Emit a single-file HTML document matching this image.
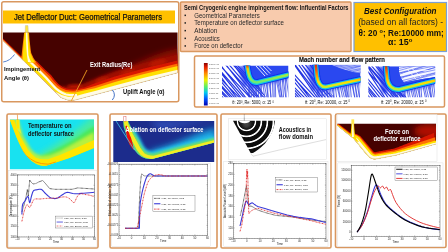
<!DOCTYPE html>
<html><head><meta charset="utf-8">
<style>
html,body{margin:0;padding:0;background:#fff;width:448px;height:252px;overflow:hidden}
svg{display:block}
text{font-family:"Liberation Sans","DejaVu Sans",sans-serif}
</style></head><body>
<svg width="448" height="252" viewBox="0 0 448 252">
<!-- ========== PANEL 1 ========== -->
<g id="p1">
<rect x="1.75" y="1.75" width="177" height="100" rx="2" fill="#fff" stroke="#d9975f" stroke-width="1.5"/>
<rect x="3" y="10.5" width="172" height="13" fill="#ffc000"/>
<text x="14" y="20" font-size="8.4" fill="#111" stroke="#111" stroke-width="0.25" textLength="148" lengthAdjust="spacingAndGlyphs">Jet Deflector Duct: Geometrical Parameters</text>
<defs>
<clipPath id="c1"><path d="M3,32.5 H177.5 V72.7 L75,100.1 Q68,101.3 61,97.5 L3,40.5 Z"/></clipPath>
<filter id="bl1" x="-20%" y="-20%" width="140%" height="140%"><feGaussianBlur stdDeviation="1.6"/></filter>
<filter id="bl05" x="-20%" y="-20%" width="140%" height="140%"><feGaussianBlur stdDeviation="0.6"/></filter>
<filter id="bl3" x="-20%" y="-20%" width="140%" height="140%"><feGaussianBlur stdDeviation="3"/></filter>
</defs>
<g clip-path="url(#c1)">
<rect x="0" y="30" width="180" height="75" fill="#460200"/>
<path d="M90,84 Q125,68 150,57 Q165,51 180,48 V75 Z" fill="#8a0c02" filter="url(#bl3)"/>
<path d="M60,86 Q70,88 80,85 L95,79 L115,71.5 L144,63 L180,54 V80 L60,100 Z" fill="#a01000" filter="url(#bl1)"/>
<g fill="#b81400" filter="url(#bl1)"><ellipse cx="102" cy="80" rx="7" ry="2.5" transform="rotate(-16 102 80)"/><ellipse cx="128" cy="72.5" rx="8" ry="2.6" transform="rotate(-16 128 72.5)"/><ellipse cx="158" cy="63" rx="9" ry="3" transform="rotate(-15 158 63)"/><ellipse cx="75" cy="86.5" rx="8" ry="2"/></g>
<!-- red band -->
<path d="M3,38.5 L21,56 L31,58.5 L37,61.5 L45.5,70 L51,75 Q54.5,80 58.5,84 Q62,87.5 66.5,88.6 Q71,89.6 76,89 L85,87.2 L95,83.3 L115,76.4 L144,68.6 L180,60.1 V110 L0,110 Z" fill="#d81800" filter="url(#bl05)"/>
<!-- orange -->
<path d="M3,39.5 L21,57.2 L31,59.7 L36,62.6 L44.2,71 L49.8,76.2 Q53.2,81.2 57.5,85.3 Q61.5,89 66,90 Q71,91 76,90.6 L85,88.7 L95,86 L115,79.6 L144,71.8 L180,63 V110 L0,110 Z" fill="#ff7000" filter="url(#bl05)"/>
<!-- yellow -->
<path d="M3,40.2 L21,58.2 L30,61 L34.5,64.5 L42.4,72.8 L47.8,77.8 Q51.5,83 56,87 Q60.5,90.8 65.5,92 Q71,92.8 76,92.3 L85,90.3 L95,88.3 L115,81.9 L144,74.1 L180,65.4 V110 L0,110 Z" fill="#ffe000" filter="url(#bl05)"/>
<!-- white core / near wall -->
<path d="M30,61.5 L38.5,70 L46.3,78 L53,85.5 Q58.5,92 66,94.5 Q71,95.5 77,95" fill="none" stroke="#fffbe6" stroke-width="2.2" filter="url(#bl05)"/>
<path d="M56,92 Q62,96 68,96.8 Q72,97 76,96 L85,93.6 L95,91 L115,85.6 L144,77.8 L180,69.2 V110 L60,110 Z" fill="#fffbe6" filter="url(#bl05)"/>
<!-- jet -->
<path d="M24.3,31 L28.9,31 Q29.9,45 31.2,53 Q33,58 36.5,62.5 L21,62 Q22,50 24.3,31 Z" fill="#ff8a00" filter="url(#bl05)"/>
<path d="M24.9,31 L28.3,31 Q29.2,45 30.3,53 Q32,58 35,62.5 L22.5,62 Q23,50 24.9,31 Z" fill="#ffe000" filter="url(#bl05)"/>
<path d="M26,31 L27.3,31 Q27.8,45 28.4,55 Q29.5,59 31,62 L28,62 Q25.8,50 26,31 Z" fill="#fffbe0" filter="url(#bl05)"/>
</g>
<!-- wall line -->
<path d="M3,40.5 L61,97.5 Q68,101.3 75,100.1 L178,72.6" fill="none" stroke="#d0d0c0" stroke-width="0.6"/>
<!-- nozzle tip -->
<path d="M25.4,25.6 h2.6 l0.3,6.4 h-3.2 z" fill="#ffe640" stroke="#b0b0b0" stroke-width="0.4"/>
<!-- annotations -->
<path d="M3.2,62 Q10,61 14.5,54.5" fill="none" stroke="#4472c4" stroke-width="0.9"/>
<path d="M112.3,89.8 Q116.5,95 112.3,100" fill="none" stroke="#4472c4" stroke-width="1"/>
<path d="M87,70 L71.3,100.9" stroke="#f0a020" stroke-width="0.9"/>
<text x="90" y="66.6" font-size="6.3" font-weight="bold" fill="#fff" textLength="42.3" lengthAdjust="spacingAndGlyphs">Exit Radius(Re)</text>
<text x="123" y="94.2" font-size="6.3" font-weight="bold" fill="#111" textLength="41.5" lengthAdjust="spacingAndGlyphs">Uplift Angle (α)</text>
<text x="4" y="70.6" font-size="6.1" font-weight="bold" fill="#111" textLength="36.2" lengthAdjust="spacingAndGlyphs">Impingement</text>
<text x="4" y="79.5" font-size="6.1" font-weight="bold" fill="#111" textLength="25" lengthAdjust="spacingAndGlyphs">Angle (θ)</text>
</g>
<!-- ========== PANEL 2 ========== -->
<g id="p2">
<rect x="180.5" y="2" width="170.5" height="49.5" rx="1" fill="#f8cbad" stroke="#d9975f" stroke-width="1.5"/>
<text x="184" y="9.6" font-size="6.3" font-weight="bold" fill="#111" textLength="164.5" lengthAdjust="spacingAndGlyphs">Semi Cryogenic engine impingement flow: Influential Factors</text>
<g fill="#222">
<rect x="184.5" y="14.6" width="1.5" height="1.5"/>
<rect x="184.5" y="22.2" width="1.5" height="1.5"/>
<rect x="184.5" y="29.9" width="1.5" height="1.5"/>
<rect x="184.5" y="37.6" width="1.5" height="1.5"/>
<rect x="184.5" y="45.2" width="1.5" height="1.5"/>
</g>
<g font-size="6.7" fill="#2a2a2a" lengthAdjust="spacingAndGlyphs">
<text x="194.3" y="17.6" textLength="65.6" lengthAdjust="spacingAndGlyphs">Geometrical Parameters</text>
<text x="194.3" y="25.2" textLength="89.6" lengthAdjust="spacingAndGlyphs">Temperature on deflector surface</text>
<text x="194.3" y="32.9" textLength="23" lengthAdjust="spacingAndGlyphs">Ablation</text>
<text x="194.3" y="40.6" textLength="25.5" lengthAdjust="spacingAndGlyphs">Acoustics</text>
<text x="194.3" y="48.2" textLength="48.4" lengthAdjust="spacingAndGlyphs">Force on deflector</text>
</g>
</g>
<!-- ========== PANEL 3 ========== -->
<g id="p3">
<rect x="354" y="2.5" width="92.5" height="49" fill="#ffc000" stroke="#7a9fd6" stroke-width="1.2"/>
<g fill="#111">
<text x="364" y="13.6" font-size="8.6" font-weight="bold" font-style="italic" textLength="72.5" lengthAdjust="spacingAndGlyphs">Best Configuration</text>
<text x="358.2" y="24.7" font-size="8.4" fill="#222" textLength="85" lengthAdjust="spacingAndGlyphs">(based on all factors) -</text>
<text x="358.6" y="35.6" font-size="8.2" font-weight="bold" textLength="85.2" lengthAdjust="spacingAndGlyphs">θ: 20 <tspan font-size="5.5" dy="-3">o</tspan><tspan dy="3">; Re:10000 mm;</tspan></text>
<text x="388" y="45.2" font-size="8.2" font-weight="bold" textLength="24.3" lengthAdjust="spacingAndGlyphs">α: 15<tspan font-size="5.5" dy="-3">o</tspan></text>
</g>
</g>
<!-- ========== PANEL 4 ========== -->
<g id="p4">
<rect x="194.5" y="56" width="250" height="51" rx="1.5" fill="#fff" stroke="#d9975f" stroke-width="1.5"/>
<text x="299" y="62.2" font-size="6.6" font-weight="bold" fill="#111" stroke="#111" stroke-width="0.15" textLength="86" lengthAdjust="spacingAndGlyphs">Mach number and flow pattern</text>
<defs>
<linearGradient id="jg1" gradientUnits="userSpaceOnUse" x1="0" y1="65" x2="0" y2="84">
<stop offset="0" stop-color="#e03010"/><stop offset="0.2" stop-color="#ffc000"/><stop offset="0.55" stop-color="#a0f040"/><stop offset="1" stop-color="#60e880"/></linearGradient>
<linearGradient id="jg2" gradientUnits="userSpaceOnUse" x1="0" y1="64" x2="0" y2="88">
<stop offset="0" stop-color="#e02010"/><stop offset="0.4" stop-color="#ff8000"/><stop offset="0.75" stop-color="#ffe000"/><stop offset="1" stop-color="#c0f030"/></linearGradient>
<linearGradient id="jg3" gradientUnits="userSpaceOnUse" x1="0" y1="66" x2="0" y2="90">
<stop offset="0" stop-color="#e03010"/><stop offset="0.35" stop-color="#ff9000"/><stop offset="0.7" stop-color="#ffe000"/><stop offset="1" stop-color="#b0f040"/></linearGradient>
<linearGradient id="cb" x1="0" y1="0" x2="0" y2="1">
<stop offset="0" stop-color="#8a0000"/><stop offset="0.1" stop-color="#e82000"/><stop offset="0.25" stop-color="#ff9000"/><stop offset="0.4" stop-color="#f0f000"/><stop offset="0.55" stop-color="#60f060"/><stop offset="0.7" stop-color="#00c8f0"/><stop offset="0.85" stop-color="#0050ff"/><stop offset="1" stop-color="#0000b0"/></linearGradient>
</defs>
<rect x="203.9" y="63" width="3.8" height="42.5" fill="url(#cb)"/>
<g font-size="2.4" fill="#555">
<text x="209" y="64.5">3.50e+00</text><text x="209" y="69.4">3.06e+00</text><text x="209" y="74.3">2.63e+00</text><text x="209" y="79.2">2.19e+00</text><text x="209" y="84.1">1.75e+00</text><text x="209" y="89">1.31e+00</text><text x="209" y="93.9">8.75e-01</text><text x="209" y="98.8">4.38e-01</text><text x="209" y="103.7">0.00e+00</text>
</g>
<clipPath id="mc1"><rect x="222" y="65.5" width="66.5" height="32"/></clipPath>
<clipPath id="ml1"><path d="M222,65.5 L247,65.5 L248,71.8 Q250,82.8 258,84.8 L266,97.5 L222,97.5 Z"/></clipPath>
<clipPath id="mb1"><path d="M248,82.8 L288.5,74.5 V97.5 H248 Z"/></clipPath>
<g clip-path="url(#mc1)">
<g clip-path="url(#ml1)"><path d="M255.19,25.92L313.38,84.16M256.95,24.26L308.07,88.8M254.65,26.17L307.31,89.46M251.37,28.99L307.6,89.14M249,31.08L306.85,89.67M250.74,29.46L302.04,93.86M248.82,31.07L301.01,94.74M248.71,31.27L297.2,97.81M246.94,32.7L296.58,98.39M241.26,37.56L298.97,96.29M240.81,37.84L296.61,98.38M241.32,37.35L293.82,100.78M238.22,39.98L293.06,101.39M238.39,39.84L289.14,104.67M238.13,40.13L287.01,106.39M236.91,41.2L284.99,108.04M234.1,43.46L284.34,108.69M233.09,44.33L282.57,110.15M231.48,45.72L280.32,112M229.4,47.4L279.45,112.78M224.36,51.71L281.46,111.03M223.08,52.8L280.51,111.8M222.26,53.44L278.82,113.27M223.66,52.2L274.36,117.08M220.55,54.78L274.33,117.13M218.25,56.74L273.29,117.97M219.25,55.92L269.29,121.3M214.65,59.81L271.01,119.83M215.7,58.89L266.17,123.94M212.36,61.67L266.69,123.53M212.04,61.93L263.89,125.88M207.59,65.86L265.78,124.1M210.55,63.24L260.29,128.84M207.54,65.7L260.9,128.4M204.94,67.95L260.99,128.25M204.75,68.05L258.72,130.22M201.54,70.91L259.48,129.41M201.09,71.2L257.58,131.1M199.01,73.01L256.62,131.84M199.97,72.05L253.47,134.64M199.95,72.1L250.6,137.01M197.16,74.41L251.14,136.58M193.74,77.46L251.69,135.95" stroke="#2436e2" stroke-width="1.15" fill="none"/>
<path d="M238,65.5 L248,65.5 L250,84.8 L243,86.8 Z" fill="#2038ee" opacity="0.75" filter="url(#bl1)"/></g>
<g clip-path="url(#mb1)"><path d="M289.62,41.41L303.08,122.95M290.61,41.23L299.68,123.38M290.61,41.24L297.14,123.64M284.89,41.96L299.97,123.22M288.91,41.46L293.62,123.97M288.05,41.57L291.73,124.14M287.75,41.7L288.91,124.35M280.47,42.35L293.4,123.99M283.96,42.02L287.17,124.61M278.2,42.56L289.5,124.43M279.9,42.39L285.39,124.86M277.08,42.66L284.13,125.01M271.15,43.48L287.82,124.43M271.14,43.37L285.43,124.78M269.01,43.68L285.28,124.72M274.54,43.06L276.26,125.7M273.87,43.19L274.32,125.84M270.83,43.39L274.23,125.98M270.02,43.57L271.06,126.22M263.39,44.12L275.39,125.9M267.23,43.87L268.16,126.52M260.41,44.44L272.59,126.19M256.96,44.9L272.19,126.14M257.34,44.75L268.83,126.6M260.71,44.54L261.94,127.18M257.79,44.73L262.3,127.26M256.81,44.88L259.65,127.49M255.93,45.04L257.25,127.68M250.07,45.5L260.18,127.53M251.89,45.37L255.7,127.94M245.92,45.97L258.52,127.66M248.53,45.7L253.36,128.21M246.75,45.88L251.76,128.38M243.34,46.2L252.2,128.37M244.01,46.17L249.01,128.67M240.77,46.47L249.98,128.61M240.75,46.5L246.33,128.96M235.76,47.06L248.9,128.66M237.32,46.85L243.5,129.27M237.35,46.95L239.56,129.58M236.02,47.11L237.81,129.74M229.35,47.69L240.85,129.54M225.65,48.22L241.61,129.32M231.75,47.6L232.52,130.25M227.2,47.9L234.65,130.21M221.8,48.62L237.61,129.75M221.43,48.56L234.52,130.17M219.52,48.81L234.11,130.17M221.5,48.5L228.66,130.84M217.32,49L230.59,130.58M215.2,49.23L228.64,130.78M215.26,49.16L225.28,131.2M214.99,49.19L221.83,131.56M212.53,49.44L220.56,131.7M208.17,49.99L222.33,131.42" stroke="#3446e6" stroke-width="0.75" fill="none"/>
<path d="M248,83.8 L288.5,74.5 L288.5,79.5 L248,88.8 Z" fill="#2038ee" opacity="0.6" filter="url(#bl1)"/></g>
<path d="M247.5,65.5 L288.5,65.5 L288.5,73.5 L257,80.8 Q250,80.8 248.5,71.8 Z" fill="#2a48f0"/>
<path d="M256,66 L265,76 M259.5,66 L267.5,75 M263,66 L270,73.5 M266.5,66 L271.5,71" stroke="#e4e8ff" stroke-width="1" filter="url(#bl05)"/>
<path d="M247,64.5 L248.2,71.8 Q250,82.8 257,82.5 L289.5,74.5" fill="none" stroke="#1030e8" stroke-width="6.6" filter="url(#bl05)"/>
<path d="M247,64.5 L248.2,71.8 Q250,82.8 257,82.5 L289.5,74.5" fill="none" stroke="#10c0f0" stroke-width="4.8" filter="url(#bl05)"/>
<path d="M247,64.5 L248.2,71.8 Q250,82.8 257,82.5 L289.5,74.5" fill="none" stroke="url(#jg1)" stroke-width="2.5" filter="url(#bl05)"/>
</g>
<clipPath id="mc2"><rect x="294.8" y="64.8" width="65.7" height="32.7"/></clipPath>
<clipPath id="ml2"><path d="M294.8,64.8 L315.7,64.8 L316.7,76.3 Q318.7,87.3 326.5,89.3 L334.5,97.5 L294.8,97.5 Z"/></clipPath>
<clipPath id="mb2"><path d="M316.5,87.3 L360.5,79.3 V97.5 H316.5 Z"/></clipPath>
<g clip-path="url(#mc2)">
<g clip-path="url(#ml2)"><path d="M332.02,22.02L381.02,87.64M326.51,26.74L384.18,84.89M325.45,27.52L381.31,87.41M322.97,29.67L380.01,88.43M322.18,30.25L377.79,90.37M322.47,29.96L373.84,93.74M321.63,30.71L371.35,95.78M317.46,34.17L371.77,95.47M316.37,35.06L369.61,97.3M317.37,34.31L366.26,100.02M315.64,35.76L364.75,101.29M312.83,38.04L365.04,101.13M312.38,38.45L362.49,103.23M309.14,41.15L363.45,102.45M306.18,43.76L363.36,102.39M308.18,41.98L358.2,106.82M306.23,43.59L357.23,107.67M302.25,46.98L357.96,107.01M305.2,44.64L352.22,111.69M300.63,48.28L354.02,110.37M298.34,50.25L354.01,110.32M301.06,48.06L348.84,114.57M299,49.75L347.43,115.8M295.53,52.56L346.94,116.31M293.18,54.52L345.43,117.59M294.06,53.95L341.64,120.61M292.16,55.54L339.73,122.21M289.63,57.56L339.22,122.74M289.48,57.83L336.48,124.89M283.62,62.58L338.5,123.36M281.12,64.72L337.14,124.46M282.89,63.2L333.05,127.93M280.41,65.24L332.84,128.15M276.22,68.93L333.72,127.24M275.68,69.24L330.74,129.88M274.58,70.15L328.9,131.44M275.04,69.79L324.93,134.74M270.22,73.91L327.08,132.86M270.5,73.56L324.11,135.47M267.99,75.76L324.33,135.2M269.18,74.7L319.59,139.24" stroke="#2436e2" stroke-width="1.15" fill="none"/>
<path d="M306.7,64.8 L316.7,64.8 L318.7,89.3 L311.7,91.3 Z" fill="#2038ee" opacity="0.75" filter="url(#bl1)"/></g>
<g clip-path="url(#mb2)"><path d="M366.82,39.27L370.04,121.57M359.67,40.08L373.3,121.3M357.89,40.35L372.56,121.39M358.16,40.28L369.18,121.9M355.12,40.72L368.98,121.91M352.57,41.11L367.69,122.06M356.17,40.7L360.99,122.91M349.25,41.57L364.16,122.56M352.26,41.19L358.47,123.32M345.39,42.2L363.1,122.63M347.21,41.82L358.06,123.46M341.82,42.76L360.91,122.87M346.64,41.96L353.48,124.04M346.89,42.07L350.13,124.36M345.04,42.33L348.27,124.63M337.11,43.33L353.92,123.95M338.08,43.1L350.7,124.49M333.43,43.94L352.49,124.06M332.16,44.08L350.51,124.37M332.05,44.01L347.81,124.84M331.63,44.01L344.48,125.36M327.1,44.83L346.29,124.92M330.54,44.18L339.82,126.01M331.24,44.22L335.62,126.46M323.67,45.18L339.43,126.02M326.8,44.75L333.83,126.8M322.8,45.25L334.11,126.83M321.27,45.47L331.84,127.14M316.64,46.21L333.72,126.78M319.55,45.72L328.56,127.59M319.85,45.81L324.34,128.05M316.22,46.2L324.85,128.1M315.51,46.36L321.59,128.5M310.4,47L323.33,128.33M306.74,47.6L323.79,128.18M309.82,47.1L318.14,129.04M306.6,47.53L317.26,129.19M303.44,47.99L317.42,129.15M305.76,47.73L312.02,129.85M305.56,47.86L309.14,130.14M298.79,48.65L313.4,129.7M298.01,48.74L310.97,130.07M299.65,48.6L305.49,130.75M295.81,49.05L305.34,130.86M294.34,49.25L304.53,130.98M291.97,49.58L303.64,131.11M292.49,49.55L300.37,131.53M285.35,50.66L303.56,130.98M285.88,50.45L299.54,131.67M288.78,50.17L293.45,132.4M284.59,50.64L293.59,132.5M285.67,50.63L289.91,132.88" stroke="#3446e6" stroke-width="0.75" fill="none"/>
<path d="M316.5,88.3 L360.5,79.3 L360.5,84.3 L316.5,93.3 Z" fill="#2038ee" opacity="0.6" filter="url(#bl1)"/></g>
<path d="M316.2,64.8 L360.5,64.8 L360.5,78.3 L325.5,85.3 Q318.7,85.3 317.2,76.3 Z" fill="#2a48f0"/>
<clipPath id="rr2"><path d="M331,64.8 L361,64.8 L361,73.5 Q346,71.5 331,64.8 Z"/></clipPath><g clip-path="url(#rr2)"><path d="M331,64.8 L361,64.8 L361,73.5 Q346,71.5 331,64.8 Z" fill="#c8d0fc"/><path d="M227.29,2.53L425.27,-47.19M227.17,2.2L426.03,-43.86M226.74,0.2L427.12,-38.73M229,9.77L425.32,-46.13M228.47,8.14L426.6,-40.98M226.74,-0.92L428.86,-29.45M227.39,2.76L428.82,-30.25M228.19,6.98L428.64,-31.58M228.45,8.2L428.87,-30.47M229.14,11.55L428.94,-30.24M229.09,11.16L429.71,-26.49M229.1,11.02L430.16,-24.19M230.75,18.95L429.16,-29.02M229.4,12.12L430.97,-20.08M230.05,15.62L430.92,-20.7M230.45,17.49L431.29,-18.96M231.75,23.78L430.77,-21.58M231.96,24.82L431.29,-19.16M231.21,20.59L432.84,-11.23M233.63,32.06L430.88,-20.47M231.52,21.71L433.52,-7.68M232.63,27.88L433.01,-11.03M233.24,30.84L432.95,-11.4M234.01,34.38L432.75,-12.21M233.64,32.67L433.79,-7.42M233.76,33.13L434.44,-4.23M233.73,32.52L435.25,0.07M234.58,37.02L435.2,-0.63M234.37,35.53L435.92,3.2M234.67,36.79L436.41,5.69M235.45,41L436.29,4.54M235.42,40.56L436.83,7.4M237.3,49.72L435.6,1.31M235.92,42.86L437.44,10.33M238.63,55.41L435.53,1.58M237.89,52.69L437.01,7.76M238.52,55.47L436.88,7.3M237.26,49.09L438.86,17.09M238.13,53.78L438.45,14.53M238.08,53.39L438.95,17.06M237.97,52.42L439.61,20.66M239.35,59.58L439.04,17.29M240.37,64.2L438.83,16.47M239.72,61.26L439.95,21.6M241.21,67.9L438.9,17.07M240.2,63.55L440.5,24.2M242.33,72.59L438.87,17.49M241.73,70.64L440.23,23.02M240.52,64.36L442.23,33.04M241.95,71.83L441.38,28.29M241.74,70.75L442.22,32.33M242.31,73.49L442.32,32.7M241.7,69.71L443.59,39.63M243.34,78.32L442.58,33.96M244.33,82.66L442.3,32.94M242.56,73.61L444.61,44.58M243.93,81.13L443.88,40.04M244.55,84.02L443.7,39.22M246.26,91.01L442.64,35.3M244.58,84.1L444.99,45.35M244.82,85.25L445.21,46.36M244.99,85.96L445.65,48.53M245.2,86.91L446.01,50.25M247.76,98.08L444.16,42.43M245.87,90.1L446.51,52.58M247.55,97.89L445.62,48.54M246.79,94.57L446.99,54.71M247.76,99.06L446.58,52.84M248.02,100.29L446.88,54.21M248.57,102.8L446.98,54.81M247.5,97.57L448.63,62.75M248.26,101.47L448.32,60.96M249.41,106.75L447.88,59.03M248.26,101.08L449.55,67.14M250.36,110.9L447.98,59.79M249.09,105.21L449.85,68.31M250.43,111.57L448.98,64.18M249.27,105.74L450.7,72.65M249.52,106.85L451.05,74.37M251.21,115.27L449.86,68.29M250.05,109.21L451.7,77.56M252.23,119.84L450.12,69.77M251.5,116.75L451.34,75.13M251.02,114.06L452.32,80.21M253.25,124.51L450.85,73.29M251.67,117.09L452.97,83.25M252.01,118.7L453.31,84.83M254.34,129.45L451.54,76.75M252.6,121.49L453.83,87.27M254.13,129L452.84,82.29M254.19,129.38L453.37,84.7M253.17,123.75L454.98,93.1M256.19,137.66L452.45,81.52M253.9,127.35L455.53,95.55M255.49,135.48L454.75,91.21M254.6,130.44L456.44,99.98M255.27,134.22L456.28,98.65M255.86,137.14L456.44,99.25M257.3,143.83L455.63,95.53M257.8,146.01L455.7,96M256.89,142.08L457.07,102.11M256.59,140.25L457.91,106.5M256.61,140L458.35,108.88M256.91,141.36L458.74,110.8M257.35,143.51L459.07,112.28M260.38,157.38L456.7,101.48M260.14,156.88L457.65,105.34M258.88,151.35L459.46,113.46M259.92,156.31L459.06,111.47M259.73,155.4L460.03,116.09M261.12,161.73L459.2,112.42M260.78,160.4L460.31,117.32M261.54,163.86L460.28,117.3M261.23,162.51L461.1,121.04M262.78,169.3L460.29,117.74M260.99,160.55L462.81,129.94M261.58,163.67L462.96,130.29M262.29,167.44L462.69,128.59M264.57,177.25L461.17,122.36M264.04,175.5L462.23,126.64M263.86,174.85L463.05,130.27M263.18,171.35L464.34,136.65M265.66,182.41L462.3,127.65M265.64,182.59L462.81,129.75M263.43,171.82L465.47,142.7M266.39,185.99L463.27,132.09M265.89,184.29L464.4,136.73M266.05,185.1L464.79,138.52M265.68,183.42L465.84,143.4M267.22,190.26L464.87,139.25M267.75,192.5L464.91,139.64M266.22,185.78L467.07,149.39M268.52,195.98L465.35,141.91M267.75,193.11L466.63,147.15M266.93,188.95L468.11,154.43M267.17,190.06L468.45,156.05M268.52,196.8L467.77,152.45M268.61,197.26L468.25,154.71" stroke="#3a50f0" stroke-width="0.6" fill="none"/></g>
<path d="M315.7,63.8 L316.9,76.3 Q318.7,87.3 325.5,87 L361.5,79.3" fill="none" stroke="#1030e8" stroke-width="6.6" filter="url(#bl05)"/>
<path d="M315.7,63.8 L316.9,76.3 Q318.7,87.3 325.5,87 L361.5,79.3" fill="none" stroke="#10c0f0" stroke-width="4.8" filter="url(#bl05)"/>
<path d="M315.7,63.8 L316.9,76.3 Q318.7,87.3 325.5,87 L361.5,79.3" fill="none" stroke="url(#jg2)" stroke-width="2.5" filter="url(#bl05)"/>
</g>
<clipPath id="mc3"><rect x="368.2" y="66.3" width="67" height="31.2"/></clipPath>
<clipPath id="ml3"><path d="M368.2,66.3 L386,66.3 L387,78.8 Q389,89.8 400,91.8 L408,97.5 L368.2,97.5 Z"/></clipPath>
<clipPath id="mb3"><path d="M390,89.8 L435.2,80.3 V97.5 H390 Z"/></clipPath>
<g clip-path="url(#mc3)">
<g clip-path="url(#ml3)"><path d="M405.65,24.54L457.74,88.48M403.39,26.32L456.22,89.65M405.69,24.66L451.21,93.43M400.04,28.94L452.86,92.28M398.37,30.26L451.58,93.26M396.97,31.36L450.53,94.08M394.02,33.76L449.42,94.85M393.35,34.22L447.45,96.46M393.98,33.65L444.46,98.87M393.99,33.73L440.84,101.6M392.17,35.15L439.26,102.85M388,38.36L441.21,101.37M384.84,40.94L440.35,101.93M385.75,40.08L436.72,104.91M384.76,40.86L435.01,106.25M381.88,43.16L435.59,105.74M379.37,45.17L434.08,106.88M377.59,46.54L431.94,108.57M378.34,45.89L427.11,112.4M373.64,49.64L428.37,111.33M375.96,47.78L423.74,115M371.48,51.31L425.69,113.45M373.5,49.77L419.91,117.93M372.86,50.32L418.25,119.18M367.9,54.04L419.99,117.97M366.73,54.95L418.75,118.95M364.09,57.04L417.31,120.04M362.13,58.64L416.82,120.36M362.04,58.62L414.47,122.28M358.57,61.46L414,122.52M362.18,58.65L407.82,127.34M360.37,60.09L405.53,129.1M355.41,63.8L407.82,127.47M354.14,64.77L405.09,129.63M351.42,66.93L404.28,130.23M350.47,67.66L402.98,131.26M351.16,67.17L398.67,134.58M347.68,69.82L398.86,134.49M345.95,71.18L397.37,135.65M346.6,70.76L393.51,138.59M343.91,72.78L393.61,138.59M343.41,73.26L390.14,141.21" stroke="#2436e2" stroke-width="1.15" fill="none"/>
<path d="M377,66.3 L387,66.3 L389,91.8 L382,93.8 Z" fill="#2038ee" opacity="0.75" filter="url(#bl1)"/></g>
<g clip-path="url(#mb3)"><path d="M439.2,38.52L445.6,120.93M430.51,39.96L450.49,120.16M429.45,40.12L448.85,120.47M434.92,39.29L441.06,121.71M432.52,39.63L440.49,121.9M424.02,41.22L446.57,120.74M428.71,40.25L438.03,122.38M425.74,40.73L436.92,122.62M424.83,40.92L434.63,122.99M421.71,41.41L435.37,122.93M416.85,42.38L437.19,122.49M416.67,42.32L434.03,123.14M415.51,42.51L432.02,123.5M413.98,42.79L430.74,123.73M417.64,42.34L423.74,124.77M414.63,42.78L422.77,125.03M407.82,43.9L425.8,124.57M405.65,44.29L423.91,124.9M406.39,44.11L420.73,125.51M403.24,44.69L420.3,125.56M401.03,45.1L419.08,125.76M400.46,45.16L415.62,126.41M399.58,45.31L413.39,126.8M401.55,45.18L407.55,127.61M395.28,46.07L410.62,127.29M390.45,47.09L412.08,126.86M395.56,46.13L403.96,128.36M387.02,47.7L408.82,127.43M387.85,47.39L404.17,128.42M385.67,47.78L402.29,128.74M385.91,47.72L399.43,129.26M382.97,48.24L398.5,129.42M383.44,48.2L394.18,130.15M378.5,49.06L396.24,129.79M377.75,49.17L393.82,130.24M378.45,49.06L390.21,130.87M375.94,49.48L388.86,131.12M371.61,50.31L390.71,130.73M373.51,49.92L385.9,131.64M367.76,51.08L389.18,130.91M368.05,50.91L386.08,131.57M369.09,50.69L382.78,132.2M367.08,51.04L380.84,132.54M367.8,51.01L376.52,133.2M366.63,51.28L373.9,133.61M363.13,51.77L374.36,133.65M363.61,51.78L371.45,134.07M358.68,52.52L373.45,133.84M355.14,53.19L373.11,133.86M358.44,52.66L367.24,134.84M350.49,54.12L371.85,133.97" stroke="#3446e6" stroke-width="0.75" fill="none"/>
<path d="M390,90.8 L435.2,80.3 L435.2,85.3 L390,95.8 Z" fill="#2038ee" opacity="0.6" filter="url(#bl1)"/></g>
<path d="M386.5,66.3 L435.2,66.3 L435.2,79.3 L399,87.8 Q389,87.8 387.5,78.8 Z" fill="#2a48f0"/>
<clipPath id="rr3"><path d="M399,66.3 L436,66.3 L436,77 Q420,79 404,82.5 Q398,76 399,66.3 Z"/></clipPath><g clip-path="url(#rr3)"><path d="M399,66.3 L436,66.3 L436,77 Q420,79 404,82.5 Q398,76 399,66.3 Z" fill="#f4f6ff"/><path d="M224.06,4.26L421.56,-47.32M224.35,5.43L422.14,-45.03M224.42,5.71L422.72,-42.68M226.62,13.82L421.38,-47.32M225.6,10.45L423.14,-40.98M224.5,5.25L425.2,-31.97M224.96,7.23L425.45,-31.08M227.5,17.86L423.82,-38.07M228.44,21.28L423.63,-38.45M226.93,15.7L426.06,-29.18M227.02,15.8L426.93,-25.45M227.62,18.33L427.18,-24.56M230.29,28.63L425.31,-31.64M231.12,31.6L425.3,-31.34M228.61,22.23L428.42,-19.53M231.33,32.77L426.26,-27.81M228.89,23.06L429.29,-15.74M232.23,36.13L426.57,-26.31M232.28,36.67L427.46,-23.11M230.74,30.94L429.94,-13.63M230.41,28.91L431.19,-7.87M231.23,32.69L431.18,-8.39M231.6,34.24L431.37,-7.71M232.15,36.54L431.6,-6.87M232.34,37.25L432,-5.22M235.33,48.68L429.99,-12.74M233.76,43.17L432.25,-4.44M235.39,49.46L431.55,-7.02M235.67,50.61L431.89,-5.66M234.35,45.31L434.04,2.96M236,52.11L433.11,-0.93M236.43,53.8L433.41,0.29M237.86,58.93L432.72,-1.89M235.23,48.18L436.12,11.97M236.22,52.8L435.87,10.29M236.7,54.83L436,10.74M237.2,56.85L436.4,12.29M238.21,61.06L436.16,11.23M237.36,56.99L437.86,18.67M240.43,69.29L435.39,8.82M238.06,59.73L438.66,21.94M239.92,67.88L437.58,16.93M241.33,73.17L437.04,15.15M241.61,74.32L437.43,16.67M241.57,74.37L438.29,19.89M240.6,70.47L439.91,26.39M242.46,77.91L439.03,22.9M242.46,78.04L439.9,26.26M242.33,77.55L440.96,30.51M244,83.94L439.96,26.79M243.3,81.45L441.22,31.5M244.82,87.12L440.42,28.72M244.59,86.49L441.36,32.2M245.74,90.74L441.1,31.56M244.96,88.13L442.88,38.19M245.42,89.94L443.25,39.67M244.76,86.89L444.84,46.45M246.23,93.22L444.17,43.33M245.5,89.76L445.78,50.3M246.22,92.94L445.79,50.04M247.58,98.62L445.41,48.33M248.77,103.12L444.87,46.43M247.65,98.79L446.86,54.27M247.62,98.28L447.88,58.74M250.21,108.78L445.95,50.86M250.55,110.14L446.27,52.16M248.7,102.6L448.99,63.19M251.2,112.88L447.45,56.75M251.44,113.97L448.15,59.45M250.4,109.7L449.93,66.68M252.99,119.64L447.92,59.08M252.65,118.78L449.19,63.66M251.97,116.22L450.58,69.06M254.61,125.8L448.8,62.91M253.24,121.33L450.86,70.18M254.48,125.97L450.39,68.62M252.44,117.28L453.24,80.58M254.02,124.45L452.39,76.3M255.3,129.37L451.71,73.78M256.38,133.29L451.48,73.27M254.13,124.2L454.68,86.19M254.34,124.92L455.06,87.82M255.16,128.71L454.95,86.9M257.22,137.11L453.79,82.09M256.39,133.87L455.47,88.76M258.22,141.07L454.56,85.23M256.42,133.21L457.25,96.68M258.11,140.85L456.42,92.46M258.55,142.62L456.57,93.07M258.18,140.93L457.65,97.6M259.09,144.75L457.6,97.21M259.14,144.91L458.17,99.57M261.25,153.01L456.9,94.81M260.01,148.36L459.09,103.29M259.51,145.71L460.19,108.35M261.73,155.26L458.58,101.23M261.23,153.35L459.95,106.66M261.47,154.26L460.51,108.96M263.02,160.4L459.72,105.85M264.32,164.98L459.04,103.76M262.27,157.28L461.96,114.97M262.71,159.08L462.32,116.35M264.7,167.06L461.04,111.23M263.05,160.09L463.41,121.08M264.46,166.34L462.56,117.08M263.95,163.98L463.73,122.07M265.76,171.44L462.62,117.45M265.38,170.02L463.73,121.79M266.5,174.43L463.51,120.99M267.92,179.6L463.02,119.57M268.31,181.11L463.3,120.74M266.19,172.93L466.02,131.3M268.7,182.91L464.39,124.86M268.12,180.99L465.6,129.3M267.28,177.23L467.33,136.62M268.41,182.13L467.09,135.29M269.38,186.02L466.72,133.84M269.24,185.51L467.49,136.89M270.85,191.6L466.69,134.03M269.18,184.91L469.03,143.36M269.39,185.73L469.37,144.77M269.47,185.6L470.24,148.73M271.01,192.57L469.43,144.65M271.15,193.08L470.1,147.4M271.48,194.34L470.76,150.13M271.31,193.29L471.61,153.92M272.47,198.43L471.21,151.85" stroke="#3448ee" stroke-width="0.55" fill="none"/></g><path d="M403,74 Q412,70 428,70.5 M404,78 Q414,74.5 426,74 M407,69 L416,79 M412,68.5 L421,77" stroke="#ffffff" stroke-width="0.7" fill="none"/>
<path d="M386,65.3 L387.2,78.8 Q389,89.8 399,89.5 L436.2,80.3" fill="none" stroke="#1030e8" stroke-width="6.6" filter="url(#bl05)"/>
<path d="M386,65.3 L387.2,78.8 Q389,89.8 399,89.5 L436.2,80.3" fill="none" stroke="#10c0f0" stroke-width="4.8" filter="url(#bl05)"/>
<path d="M386,65.3 L387.2,78.8 Q389,89.8 399,89.5 L436.2,80.3" fill="none" stroke="url(#jg3)" stroke-width="2.5" filter="url(#bl05)"/>
</g>
<g font-size="4.6" fill="#111" style="font-family:'Liberation Serif',serif">
<text x="232.3" y="104.2" textLength="41.5" lengthAdjust="spacingAndGlyphs">θ: 20<tspan font-size="3" dy="-1.6">0</tspan><tspan dy="1.6">, Re: 5000, α: 15 </tspan><tspan font-size="3" dy="-1.6">0</tspan></text>
<text x="305" y="104" textLength="45" lengthAdjust="spacingAndGlyphs">θ: 20<tspan font-size="3" dy="-1.6">0</tspan><tspan dy="1.6">, Re: 10000, α: 15 </tspan><tspan font-size="3" dy="-1.6">0</tspan></text>
<text x="381" y="104" textLength="45.5" lengthAdjust="spacingAndGlyphs">θ: 20<tspan font-size="3" dy="-1.6">0</tspan><tspan dy="1.6">, Re: 20000, α: 15 </tspan><tspan font-size="3" dy="-1.6">0</tspan></text>
</g>
</g>
<!-- ========== BOTTOM PANELS ========== -->
<g id="b" fill="#fff" stroke="#d9975f" stroke-width="1.6">
<rect x="7" y="114" width="91" height="134" rx="1.5"/>
<rect x="110" y="114" width="107" height="134" rx="1.5"/>
<rect x="221" y="114" width="110" height="134" rx="1.5"/>
<rect x="335.5" y="114" width="110.5" height="133.5" rx="1.5"/>
</g>
<defs>
<clipPath id="cT"><rect x="9.9" y="119.6" width="84.1" height="49.6"/></clipPath>
<clipPath id="cT2"><path d="M9.7,119.5 L16.6,137.4 Q21,147.5 24,152.4 Q28,158 31.6,161 Q36,164.3 40,165.2 Q43,166 46,165.8 L70,157.8 L94.5,147.9 V119 Z"/></clipPath>
</defs>
<g clip-path="url(#cT)">
<rect x="9" y="119" width="86" height="51" fill="#18e2f0"/>
<g clip-path="url(#cT2)">
<path d="M34,157 Q52,148 68,136 Q84,124 96,114 V175 L30,175 Z" fill="#48eca0" filter="url(#bl3)"/>
<path d="M40,157 Q60,148 75,139 Q86,131 96,125 V175 L30,175 Z" fill="#48e858" filter="url(#bl1)"/>
<path d="M9,119 L18,119 L23,136 L30.5,148.5 Q36,155.5 42,156 L50,155 L60,151 L94,132 V175 L0,175 L0,119 Z" fill="#b8f040" filter="url(#bl1)"/>
<path d="M9,119.5 L14,119.5 L20.8,137.4 L28.3,150.3 Q32,155 35.8,157.8 Q41,159.8 48,159.2 L60,155 L94,140 V175 L0,175 L0,119 Z" fill="#ffe600" filter="url(#bl05)"/>
<path d="M15.8,119 L19.6,119 L20,128.8 L21.5,134 L16.8,129 Z" fill="#d8f040" filter="url(#bl05)"/>
<path d="M16.6,119 L18.7,119 L19,128.5 L17,128.5 Z" fill="#ffe600"/>
<path d="M19.8,146 Q22.5,151 26.2,155.6 Q30.5,159.5 35.8,162 Q41,164 48,164.2 L56,162" fill="none" stroke="#ff9000" stroke-width="0.9" filter="url(#bl05)"/>
</g>
</g>
<path d="M17.4,114.5 L17.6,120" stroke="#f09030" stroke-width="0.7"/>

<text x="27.9" y="127.9" font-size="6.4" font-weight="bold" fill="#111" textLength="43.8" lengthAdjust="spacingAndGlyphs">Temperature on</text>
<text x="27.9" y="135.8" font-size="6.4" font-weight="bold" fill="#111" textLength="46.1" lengthAdjust="spacingAndGlyphs">deflector surface</text>
<rect x="8.6" y="170.4" width="88.4" height="76.6" fill="#fff" stroke="#d8d8d8" stroke-width="0.4"/>
<rect x="17.5" y="174.9" width="77.1" height="62.1" fill="#fff" stroke="#444" stroke-width="0.45"/>
<path d="M17.5,237h1.2M94.6,237h-1.2M17.5,226.65h1.2M94.6,226.65h-1.2M17.5,216.3h1.2M94.6,216.3h-1.2M17.5,205.95h1.2M94.6,205.95h-1.2M17.5,195.6h1.2M94.6,195.6h-1.2M17.5,185.25h1.2M94.6,185.25h-1.2M17.5,174.9h1.2M94.6,174.9h-1.2M17.5,237v-1.2M17.5,174.9v1.2M28.51,237v-1.2M28.51,174.9v1.2M39.53,237v-1.2M39.53,174.9v1.2M50.54,237v-1.2M50.54,174.9v1.2M61.56,237v-1.2M61.56,174.9v1.2M72.57,237v-1.2M72.57,174.9v1.2M83.59,237v-1.2M83.59,174.9v1.2M94.6,237v-1.2M94.6,174.9v1.2M17.5,237h0.6M94.6,237h-0.6M17.5,234.93h0.6M94.6,234.93h-0.6M17.5,232.86h0.6M94.6,232.86h-0.6M17.5,230.79h0.6M94.6,230.79h-0.6M17.5,228.72h0.6M94.6,228.72h-0.6M17.5,226.65h0.6M94.6,226.65h-0.6M17.5,224.58h0.6M94.6,224.58h-0.6M17.5,222.51h0.6M94.6,222.51h-0.6M17.5,220.44h0.6M94.6,220.44h-0.6M17.5,218.37h0.6M94.6,218.37h-0.6M17.5,216.3h0.6M94.6,216.3h-0.6M17.5,214.23h0.6M94.6,214.23h-0.6M17.5,212.16h0.6M94.6,212.16h-0.6M17.5,210.09h0.6M94.6,210.09h-0.6M17.5,208.02h0.6M94.6,208.02h-0.6M17.5,205.95h0.6M94.6,205.95h-0.6M17.5,203.88h0.6M94.6,203.88h-0.6M17.5,201.81h0.6M94.6,201.81h-0.6M17.5,199.74h0.6M94.6,199.74h-0.6M17.5,197.67h0.6M94.6,197.67h-0.6M17.5,195.6h0.6M94.6,195.6h-0.6M17.5,193.53h0.6M94.6,193.53h-0.6M17.5,191.46h0.6M94.6,191.46h-0.6M17.5,189.39h0.6M94.6,189.39h-0.6M17.5,187.32h0.6M94.6,187.32h-0.6M17.5,185.25h0.6M94.6,185.25h-0.6M17.5,183.18h0.6M94.6,183.18h-0.6M17.5,181.11h0.6M94.6,181.11h-0.6M17.5,179.04h0.6M94.6,179.04h-0.6M17.5,176.97h0.6M94.6,176.97h-0.6M17.5,174.9h0.6M94.6,174.9h-0.6M17.5,237v-0.6M17.5,174.9v0.6M19.7,237v-0.6M19.7,174.9v0.6M21.91,237v-0.6M21.91,174.9v0.6M24.11,237v-0.6M24.11,174.9v0.6M26.31,237v-0.6M26.31,174.9v0.6M28.51,237v-0.6M28.51,174.9v0.6M30.72,237v-0.6M30.72,174.9v0.6M32.92,237v-0.6M32.92,174.9v0.6M35.12,237v-0.6M35.12,174.9v0.6M37.33,237v-0.6M37.33,174.9v0.6M39.53,237v-0.6M39.53,174.9v0.6M41.73,237v-0.6M41.73,174.9v0.6M43.93,237v-0.6M43.93,174.9v0.6M46.14,237v-0.6M46.14,174.9v0.6M48.34,237v-0.6M48.34,174.9v0.6M50.54,237v-0.6M50.54,174.9v0.6M52.75,237v-0.6M52.75,174.9v0.6M54.95,237v-0.6M54.95,174.9v0.6M57.15,237v-0.6M57.15,174.9v0.6M59.35,237v-0.6M59.35,174.9v0.6M61.56,237v-0.6M61.56,174.9v0.6M63.76,237v-0.6M63.76,174.9v0.6M65.96,237v-0.6M65.96,174.9v0.6M68.17,237v-0.6M68.17,174.9v0.6M70.37,237v-0.6M70.37,174.9v0.6M72.57,237v-0.6M72.57,174.9v0.6M74.77,237v-0.6M74.77,174.9v0.6M76.98,237v-0.6M76.98,174.9v0.6M79.18,237v-0.6M79.18,174.9v0.6M81.38,237v-0.6M81.38,174.9v0.6M83.59,237v-0.6M83.59,174.9v0.6M85.79,237v-0.6M85.79,174.9v0.6M87.99,237v-0.6M87.99,174.9v0.6M90.19,237v-0.6M90.19,174.9v0.6M92.4,237v-0.6M92.4,174.9v0.6M94.6,237v-0.6M94.6,174.9v0.6" stroke="#555" stroke-width="0.3" fill="none"/>
<g font-size="2.8" fill="#333"><text x="16.7" y="237.8" text-anchor="end">1000</text><text x="16.7" y="227.45" text-anchor="end">1500</text><text x="16.7" y="217.1" text-anchor="end">2000</text><text x="16.7" y="206.75" text-anchor="end">2500</text><text x="16.7" y="196.4" text-anchor="end">3000</text><text x="16.7" y="186.05" text-anchor="end">3500</text><text x="16.7" y="175.7" text-anchor="end">4000</text><text x="17.5" y="240" text-anchor="middle">-10</text><text x="28.51" y="240" text-anchor="middle">0</text><text x="39.53" y="240" text-anchor="middle">10</text><text x="50.54" y="240" text-anchor="middle">20</text><text x="61.56" y="240" text-anchor="middle">30</text><text x="72.57" y="240" text-anchor="middle">40</text><text x="83.59" y="240" text-anchor="middle">50</text><text x="94.6" y="240" text-anchor="middle">60</text></g>
<text x="56.05" y="243.2" font-size="2.9" fill="#222" text-anchor="middle">Time</text>
<text transform="translate(11.5,205.95) rotate(-90)" font-size="2.9" fill="#222" text-anchor="middle">Temperature (K)</text>
<polyline points="21.9,212 24,205 26,197 27.3,189.5 28.3,196 29.7,180 31,182 33,184 36,183.5 38.6,182 42.7,180.5 45,183 49.7,188.6 55,189.3 65,189.3 72,189.3 77.7,187.9 85,188.4 94.4,189" fill="none" stroke="#000" stroke-width="0.8" stroke-dasharray="0.7 0.55" stroke-linejoin="round"/>
<polyline points="21.9,214.4 21.96,212.58 22.04,209.95 22.2,207.19 22.5,205 22.98,203.63 23.6,202.7 24.3,201.92 25,201 25.75,199.63 26.55,198.05 27.33,196.79 28,196.4 28.51,197.54 28.92,199.74 29.3,201.87 29.7,202.8 30.14,201.99 30.58,200.13 31.03,197.9 31.5,196 31.95,194.49 32.39,193.04 32.89,191.77 33.5,190.8 34.25,190.24 35.11,190 36.03,189.91 37,189.8 38.03,189.56 39.14,189.31 40.25,189.2 41.3,189.4 42.24,190 43.12,190.91 44.02,191.96 45,193 46.14,194.08 47.38,195.26 48.6,196.35 49.7,197.2 50.61,197.72 51.39,198.01 52.16,198.17 53,198.3 53.93,198.45 54.89,198.58 55.91,198.56 57,198.3 58.17,197.69 59.42,196.82 60.71,195.86 62,195 63.25,194.18 64.49,193.35 65.81,192.67 67.3,192.3 68.99,192.43 70.83,192.92 72.77,193.47 74.8,193.8 76.88,193.8 79.05,193.65 81.32,193.42 83.7,193.2 86.5,192.97 89.61,192.71 92.44,192.47 94.4,192.3" fill="none" stroke="#3a3ad8" stroke-width="1.1" stroke-linejoin="round"/>
<polyline points="21.9,221.4 22.26,219.66 22.77,217.16 23.37,214.42 24,212 24.67,209.79 25.41,207.59 26.16,205.77 26.9,204.7 27.62,204.86 28.34,205.92 29.04,207.08 29.7,207.5 30.31,206.87 30.88,205.66 31.43,204.25 32,203 32.52,201.92 32.99,200.83 33.57,199.88 34.4,199.2 35.59,198.9 37.04,198.89 38.57,198.99 40,199 41.29,198.89 42.54,198.75 43.76,198.61 45,198.5 46.2,198.43 47.38,198.39 48.61,198.35 50,198.3 51.59,198.25 53.31,198.21 55.13,198.14 57,198 59,197.68 61.12,197.24 63.19,196.88 65,196.8 66.48,197.08 67.75,197.59 68.89,198.26 70,199 71.09,200.04 72.12,201.34 73.09,202.4 74,202.7 74.82,201.88 75.56,200.28 76.27,198.47 77,197 77.7,195.93 78.38,195 79.11,194.27 80,193.8 81.11,193.7 82.38,193.9 83.7,194.23 85,194.5 86.26,194.68 87.54,194.85 88.79,195.05 90,195.3 91.25,195.66 92.51,196.1 93.62,196.51 94.4,196.8" fill="none" stroke="#e02828" stroke-width="0.85" stroke-dasharray="1.6 0.6 0.5 0.6" stroke-linejoin="round"/>
<rect x="55.4" y="216.1" width="37.2" height="11.9" fill="#fff" stroke="#555" stroke-width="0.35"/>
<line x1="56.6" y1="218.08" x2="62.9" y2="218.08" stroke="#000" stroke-width="0.45" stroke-dasharray="0.5 0.6"/>
<text x="63.9" y="218.88" font-size="2.5" fill="#222">θ:20, Re: 5000, α:15</text>
<line x1="56.6" y1="222.05" x2="62.9" y2="222.05" stroke="#3a3ad8" stroke-width="0.8"/>
<text x="63.9" y="222.85" font-size="2.5" fill="#222">θ:20, Re: 10000, α:15</text>
<line x1="56.6" y1="226.02" x2="62.9" y2="226.02" stroke="#e02828" stroke-width="0.6" stroke-dasharray="1.4 0.6 0.4 0.6"/>
<text x="63.9" y="226.82" font-size="2.5" fill="#222">θ:20, Re: 20000, α:15</text>
<defs>
<clipPath id="cA"><rect x="113.3" y="120.9" width="100.9" height="41"/></clipPath>
<clipPath id="cA2"><path d="M116,120.9 L134.4,150 Q141,159.6 152,159 L214.3,142.5 V120.9 Z"/></clipPath>
<filter id="bl08" x="-20%" y="-20%" width="140%" height="140%"><feGaussianBlur stdDeviation="0.9"/></filter>
</defs>
<g clip-path="url(#cA)">
<rect x="112" y="120" width="104" height="43" fill="#1c2c8c"/>
<path d="M160,130 Q190,124 214,121 V121 H150 Z" fill="#3050b8" filter="url(#bl3)"/>
<g clip-path="url(#cA2)">
<path d="M150,151 Q175,144 195,135 Q207,130 216,128 V146 L150,162 Z" fill="#1aa8e4" filter="url(#bl3)"/>
<path d="M125,117 L126.5,125 L131,135 L135.5,143 Q138.5,150 142.5,154 Q147,157.6 154,157.4 L216,141.4" fill="none" stroke="#22c4e8" stroke-width="12" filter="url(#bl1)"/>
<path d="M125,117 L126.5,125 L131,135 L135.5,143 Q138.5,150 142.5,154 Q147,157.6 154,157.4 L216,141.4" fill="none" stroke="#78e060" stroke-width="7.4" filter="url(#bl08)"/>
<path d="M125,117 L126.5,125 L131,135 L135.5,143 Q138.5,150 142.5,154 Q147,157.6 154,157.4 L216,141.4" fill="none" stroke="#f4ec20" stroke-width="3.4" filter="url(#bl05)"/>
<path d="M125,117 L126.5,125 L131,135 L135.5,143 Q138.5,150 142.5,154" fill="none" stroke="#f4ec20" stroke-width="3.8" filter="url(#bl05)"/>
</g>
<path d="M113,120 L123,120 L123.6,127 L125.5,133 L127,138 L116,121 Z" fill="#1c2c8c" filter="url(#bl05)"/>
<path d="M127.5,119 L136,119 L136,124 L133,130.5 L130.5,126 L128.5,122 Z" fill="#1c2c8c" filter="url(#bl05)"/>
<path d="M126.2,126 Q127.5,131 129.3,135.5 Q131.5,140 132.8,148 Q130,145 128.3,140 Q126.5,133 126.2,126 Z" fill="#e81010" stroke="#e81010" stroke-width="1.3" filter="url(#bl05)"/>
<path d="M116,120.9 L134.4,150" stroke="#40d8f0" stroke-width="0.7"/>
</g>
<rect x="123.8" y="116.6" width="2.2" height="4.6" fill="#fff" stroke="#d04040" stroke-width="0.4"/>
<text x="125.5" y="131.5" font-size="7" font-weight="bold" fill="#fff" textLength="78" lengthAdjust="spacingAndGlyphs">Ablation on deflector surface</text>
<rect x="111.8" y="163.4" width="98.7" height="83.1" fill="#fff" stroke="#d8d8d8" stroke-width="0.4"/>
<rect x="119" y="164.4" width="88.5" height="71.1" fill="#fff" stroke="#444" stroke-width="0.45"/>
<path d="M119,235.5h1.2M207.5,235.5h-1.2M119,225.34h1.2M207.5,225.34h-1.2M119,215.19h1.2M207.5,215.19h-1.2M119,205.03h1.2M207.5,205.03h-1.2M119,194.87h1.2M207.5,194.87h-1.2M119,184.71h1.2M207.5,184.71h-1.2M119,174.56h1.2M207.5,174.56h-1.2M119,164.4h1.2M207.5,164.4h-1.2M119,235.5v-1.2M119,164.4v1.2M131.64,235.5v-1.2M131.64,164.4v1.2M144.29,235.5v-1.2M144.29,164.4v1.2M156.93,235.5v-1.2M156.93,164.4v1.2M169.57,235.5v-1.2M169.57,164.4v1.2M182.21,235.5v-1.2M182.21,164.4v1.2M194.86,235.5v-1.2M194.86,164.4v1.2M207.5,235.5v-1.2M207.5,164.4v1.2M119,235.5h0.6M207.5,235.5h-0.6M119,233.47h0.6M207.5,233.47h-0.6M119,231.44h0.6M207.5,231.44h-0.6M119,229.41h0.6M207.5,229.41h-0.6M119,227.37h0.6M207.5,227.37h-0.6M119,225.34h0.6M207.5,225.34h-0.6M119,223.31h0.6M207.5,223.31h-0.6M119,221.28h0.6M207.5,221.28h-0.6M119,219.25h0.6M207.5,219.25h-0.6M119,217.22h0.6M207.5,217.22h-0.6M119,215.19h0.6M207.5,215.19h-0.6M119,213.15h0.6M207.5,213.15h-0.6M119,211.12h0.6M207.5,211.12h-0.6M119,209.09h0.6M207.5,209.09h-0.6M119,207.06h0.6M207.5,207.06h-0.6M119,205.03h0.6M207.5,205.03h-0.6M119,203h0.6M207.5,203h-0.6M119,200.97h0.6M207.5,200.97h-0.6M119,198.93h0.6M207.5,198.93h-0.6M119,196.9h0.6M207.5,196.9h-0.6M119,194.87h0.6M207.5,194.87h-0.6M119,192.84h0.6M207.5,192.84h-0.6M119,190.81h0.6M207.5,190.81h-0.6M119,188.78h0.6M207.5,188.78h-0.6M119,186.75h0.6M207.5,186.75h-0.6M119,184.71h0.6M207.5,184.71h-0.6M119,182.68h0.6M207.5,182.68h-0.6M119,180.65h0.6M207.5,180.65h-0.6M119,178.62h0.6M207.5,178.62h-0.6M119,176.59h0.6M207.5,176.59h-0.6M119,174.56h0.6M207.5,174.56h-0.6M119,172.53h0.6M207.5,172.53h-0.6M119,170.49h0.6M207.5,170.49h-0.6M119,168.46h0.6M207.5,168.46h-0.6M119,166.43h0.6M207.5,166.43h-0.6M119,164.4h0.6M207.5,164.4h-0.6M119,235.5v-0.6M119,164.4v0.6M121.53,235.5v-0.6M121.53,164.4v0.6M124.06,235.5v-0.6M124.06,164.4v0.6M126.59,235.5v-0.6M126.59,164.4v0.6M129.11,235.5v-0.6M129.11,164.4v0.6M131.64,235.5v-0.6M131.64,164.4v0.6M134.17,235.5v-0.6M134.17,164.4v0.6M136.7,235.5v-0.6M136.7,164.4v0.6M139.23,235.5v-0.6M139.23,164.4v0.6M141.76,235.5v-0.6M141.76,164.4v0.6M144.29,235.5v-0.6M144.29,164.4v0.6M146.81,235.5v-0.6M146.81,164.4v0.6M149.34,235.5v-0.6M149.34,164.4v0.6M151.87,235.5v-0.6M151.87,164.4v0.6M154.4,235.5v-0.6M154.4,164.4v0.6M156.93,235.5v-0.6M156.93,164.4v0.6M159.46,235.5v-0.6M159.46,164.4v0.6M161.99,235.5v-0.6M161.99,164.4v0.6M164.51,235.5v-0.6M164.51,164.4v0.6M167.04,235.5v-0.6M167.04,164.4v0.6M169.57,235.5v-0.6M169.57,164.4v0.6M172.1,235.5v-0.6M172.1,164.4v0.6M174.63,235.5v-0.6M174.63,164.4v0.6M177.16,235.5v-0.6M177.16,164.4v0.6M179.69,235.5v-0.6M179.69,164.4v0.6M182.21,235.5v-0.6M182.21,164.4v0.6M184.74,235.5v-0.6M184.74,164.4v0.6M187.27,235.5v-0.6M187.27,164.4v0.6M189.8,235.5v-0.6M189.8,164.4v0.6M192.33,235.5v-0.6M192.33,164.4v0.6M194.86,235.5v-0.6M194.86,164.4v0.6M197.39,235.5v-0.6M197.39,164.4v0.6M199.91,235.5v-0.6M199.91,164.4v0.6M202.44,235.5v-0.6M202.44,164.4v0.6M204.97,235.5v-0.6M204.97,164.4v0.6M207.5,235.5v-0.6M207.5,164.4v0.6" stroke="#555" stroke-width="0.3" fill="none"/>
<g font-size="2.8" fill="#333"><text x="118.2" y="236.3" text-anchor="end">-0.003</text><text x="118.2" y="226.14" text-anchor="end">-0.00275</text><text x="118.2" y="215.99" text-anchor="end">-0.0025</text><text x="118.2" y="205.83" text-anchor="end">-0.00225</text><text x="118.2" y="195.67" text-anchor="end">-0.002</text><text x="118.2" y="185.51" text-anchor="end">-0.00175</text><text x="118.2" y="175.36" text-anchor="end">-0.0015</text><text x="118.2" y="165.2" text-anchor="end">-0.00125</text><text x="119" y="238.5" text-anchor="middle">-10</text><text x="131.64" y="238.5" text-anchor="middle">0</text><text x="144.29" y="238.5" text-anchor="middle">10</text><text x="156.93" y="238.5" text-anchor="middle">20</text><text x="169.57" y="238.5" text-anchor="middle">30</text><text x="182.21" y="238.5" text-anchor="middle">40</text><text x="194.86" y="238.5" text-anchor="middle">50</text><text x="207.5" y="238.5" text-anchor="middle">60</text></g>
<text x="163.25" y="241.7" font-size="2.9" fill="#222" text-anchor="middle">Time</text>
<text transform="translate(111.3,199.95) rotate(-90)" font-size="2.9" fill="#222" text-anchor="middle">Thickness of ablation (m)</text>
<polyline points="125,228.3 138.3,228.3 138.8,215 139.6,198 140.4,184 141.2,176 141.7,174 142.6,174.5 144.1,175.9 150,176 207.3,176" fill="none" stroke="#000" stroke-width="0.8" stroke-dasharray="0.7 0.55" stroke-linejoin="round"/>
<polyline points="125,228.3 139.4,228.3 139.6,215 140.2,203 140.2,203 140.52,201.16 140.97,198.5 141.49,195.59 142,193 142.47,190.85 142.96,188.84 143.46,186.92 144,185 144.6,182.98 145.25,180.93 145.9,179.04 146.5,177.5 147.04,176.4 147.53,175.63 148.01,175.07 148.5,174.6 149,174.21 149.5,173.96 150,173.82 150.5,173.8 150.99,173.92 151.47,174.18 151.96,174.49 152.5,174.8 153.03,175.11 153.56,175.46 154.19,175.78 155,176 155.08,176.08 154.7,176.07 155.72,176.03 160,176 169.96,176 183.96,176 197.81,176 207.3,176" fill="none" stroke="#3a3ad8" stroke-width="1.1" stroke-linejoin="round"/>
<polyline points="125,228.3 137,228.3 137,228.3 137.27,227.18 137.66,225.59 138.09,223.77 138.5,222 138.86,220.37 139.22,218.73 139.59,216.98 140,215 140.46,212.71 140.97,210.19 141.49,207.57 142,205 142.5,202.43 143,199.81 143.5,197.29 144,195 144.5,193.01 145,191.24 145.5,189.6 146,188 146.49,186.42 146.97,184.89 147.46,183.47 148,182.2 148.59,181.09 149.22,180.12 149.86,179.26 150.5,178.5 151.11,177.85 151.72,177.31 152.34,176.84 153,176.4 153.71,175.98 154.47,175.6 155.24,175.27 156,175 156.75,174.79 157.5,174.63 158.25,174.53 159,174.5 159.73,174.54 160.44,174.66 161.18,174.82 162,175 162.81,175.24 163.62,175.53 164.62,175.81 166,176 167.35,176.07 168.73,176.06 170.99,176.02 175,176 182.19,176 191.71,176 200.95,176 207.3,176" fill="none" stroke="#e02828" stroke-width="0.85" stroke-dasharray="1.6 0.6 0.5 0.6" stroke-linejoin="round"/>
<rect x="152.9" y="195.7" width="42.1" height="16.1" fill="#fff" stroke="#555" stroke-width="0.35"/>
<line x1="154.1" y1="198.38" x2="160.4" y2="198.38" stroke="#000" stroke-width="0.8" stroke-dasharray="0.7 0.55"/>
<text x="161.4" y="199.18" font-size="2.5" fill="#222">θ:20, Re: 5000, α:15</text>
<line x1="154.1" y1="203.75" x2="160.4" y2="203.75" stroke="#3a3ad8" stroke-width="1.1"/>
<text x="161.4" y="204.55" font-size="2.5" fill="#222">θ:20, Re: 10000, α:15</text>
<line x1="154.1" y1="209.12" x2="160.4" y2="209.12" stroke="#e02828" stroke-width="0.85" stroke-dasharray="1.6 0.6 0.5 0.6"/>
<text x="161.4" y="209.92" font-size="2.5" fill="#222">θ:20, Re: 20000, α:15</text>
<defs>
<clipPath id="cW"><path d="M233,120.7 L275,120.7 Q274.5,127 271.7,132.7 Q268.5,139 265,143.5 Q261.5,147 258.3,149.6 Q255,152 251.3,154.2 Z"/></clipPath>
<radialGradient id="rg" gradientUnits="userSpaceOnUse" cx="246.5" cy="121.5" r="6" spreadMethod="repeat">
<stop offset="0" stop-color="#111"/><stop offset="0.28" stop-color="#111"/><stop offset="0.41" stop-color="#fff"/><stop offset="0.55" stop-color="#fff"/><stop offset="0.68" stop-color="#111"/><stop offset="1" stop-color="#111"/></radialGradient>
<radialGradient id="rg0" gradientUnits="userSpaceOnUse" cx="244.5" cy="120.7" r="7.5"><stop offset="0" stop-color="#fafafa"/><stop offset="0.35" stop-color="#d0d0d0"/><stop offset="0.7" stop-color="#222" stop-opacity="0.3"/><stop offset="1" stop-color="#111" stop-opacity="0"/></radialGradient>
<filter id="bl04" x="-20%" y="-20%" width="140%" height="140%"><feGaussianBlur stdDeviation="0.4"/></filter>
</defs>
<rect x="228.3" y="118.8" width="98" height="40.6" fill="#fff" stroke="#d8d8d8" stroke-width="0.4"/>
<g clip-path="url(#cW)">
<g filter="url(#bl04)"><rect x="230" y="119" width="50" height="40" fill="url(#rg)"/>
<circle cx="246.5" cy="121.5" r="8.2" fill="#111"/>
<circle cx="246.5" cy="124" r="4" fill="#444" filter="url(#bl1)"/></g>
<ellipse cx="244.5" cy="120.7" rx="5.5" ry="2.6" fill="#fff" filter="url(#bl05)"/>
</g>
<path d="M251.3,154.2 L253,156.2 L278,150.3 L326,139.6" fill="none" stroke="#c8c8c8" stroke-width="0.6"/>
<path d="M244.3,114.5 V121" stroke="#444" stroke-width="0.6" stroke-dasharray="0.7 0.5"/>
<text x="278.8" y="131.5" font-size="7" font-weight="bold" fill="#111" textLength="32.5" lengthAdjust="spacingAndGlyphs">Acoustics in</text>
<text x="278.8" y="139.2" font-size="7" font-weight="bold" fill="#111" textLength="34.2" lengthAdjust="spacingAndGlyphs">flow domain</text>
<rect x="223.8" y="161.5" width="104.2" height="85" fill="#fff" stroke="#d8d8d8" stroke-width="0.4"/>
<rect x="233.6" y="163.6" width="92.4" height="75.1" fill="#fff" stroke="#444" stroke-width="0.45"/>
<path d="M233.6,238.7h1.2M326,238.7h-1.2M233.6,227.97h1.2M326,227.97h-1.2M233.6,217.24h1.2M326,217.24h-1.2M233.6,206.51h1.2M326,206.51h-1.2M233.6,195.79h1.2M326,195.79h-1.2M233.6,185.06h1.2M326,185.06h-1.2M233.6,174.33h1.2M326,174.33h-1.2M233.6,163.6h1.2M326,163.6h-1.2M233.6,238.7v-1.2M233.6,163.6v1.2M246.8,238.7v-1.2M246.8,163.6v1.2M260,238.7v-1.2M260,163.6v1.2M273.2,238.7v-1.2M273.2,163.6v1.2M286.4,238.7v-1.2M286.4,163.6v1.2M299.6,238.7v-1.2M299.6,163.6v1.2M312.8,238.7v-1.2M312.8,163.6v1.2M326,238.7v-1.2M326,163.6v1.2M233.6,238.7h0.6M326,238.7h-0.6M233.6,236.55h0.6M326,236.55h-0.6M233.6,234.41h0.6M326,234.41h-0.6M233.6,232.26h0.6M326,232.26h-0.6M233.6,230.12h0.6M326,230.12h-0.6M233.6,227.97h0.6M326,227.97h-0.6M233.6,225.83h0.6M326,225.83h-0.6M233.6,223.68h0.6M326,223.68h-0.6M233.6,221.53h0.6M326,221.53h-0.6M233.6,219.39h0.6M326,219.39h-0.6M233.6,217.24h0.6M326,217.24h-0.6M233.6,215.1h0.6M326,215.1h-0.6M233.6,212.95h0.6M326,212.95h-0.6M233.6,210.81h0.6M326,210.81h-0.6M233.6,208.66h0.6M326,208.66h-0.6M233.6,206.51h0.6M326,206.51h-0.6M233.6,204.37h0.6M326,204.37h-0.6M233.6,202.22h0.6M326,202.22h-0.6M233.6,200.08h0.6M326,200.08h-0.6M233.6,197.93h0.6M326,197.93h-0.6M233.6,195.79h0.6M326,195.79h-0.6M233.6,193.64h0.6M326,193.64h-0.6M233.6,191.49h0.6M326,191.49h-0.6M233.6,189.35h0.6M326,189.35h-0.6M233.6,187.2h0.6M326,187.2h-0.6M233.6,185.06h0.6M326,185.06h-0.6M233.6,182.91h0.6M326,182.91h-0.6M233.6,180.77h0.6M326,180.77h-0.6M233.6,178.62h0.6M326,178.62h-0.6M233.6,176.47h0.6M326,176.47h-0.6M233.6,174.33h0.6M326,174.33h-0.6M233.6,172.18h0.6M326,172.18h-0.6M233.6,170.04h0.6M326,170.04h-0.6M233.6,167.89h0.6M326,167.89h-0.6M233.6,165.75h0.6M326,165.75h-0.6M233.6,163.6h0.6M326,163.6h-0.6M233.6,238.7v-0.6M233.6,163.6v0.6M236.24,238.7v-0.6M236.24,163.6v0.6M238.88,238.7v-0.6M238.88,163.6v0.6M241.52,238.7v-0.6M241.52,163.6v0.6M244.16,238.7v-0.6M244.16,163.6v0.6M246.8,238.7v-0.6M246.8,163.6v0.6M249.44,238.7v-0.6M249.44,163.6v0.6M252.08,238.7v-0.6M252.08,163.6v0.6M254.72,238.7v-0.6M254.72,163.6v0.6M257.36,238.7v-0.6M257.36,163.6v0.6M260,238.7v-0.6M260,163.6v0.6M262.64,238.7v-0.6M262.64,163.6v0.6M265.28,238.7v-0.6M265.28,163.6v0.6M267.92,238.7v-0.6M267.92,163.6v0.6M270.56,238.7v-0.6M270.56,163.6v0.6M273.2,238.7v-0.6M273.2,163.6v0.6M275.84,238.7v-0.6M275.84,163.6v0.6M278.48,238.7v-0.6M278.48,163.6v0.6M281.12,238.7v-0.6M281.12,163.6v0.6M283.76,238.7v-0.6M283.76,163.6v0.6M286.4,238.7v-0.6M286.4,163.6v0.6M289.04,238.7v-0.6M289.04,163.6v0.6M291.68,238.7v-0.6M291.68,163.6v0.6M294.32,238.7v-0.6M294.32,163.6v0.6M296.96,238.7v-0.6M296.96,163.6v0.6M299.6,238.7v-0.6M299.6,163.6v0.6M302.24,238.7v-0.6M302.24,163.6v0.6M304.88,238.7v-0.6M304.88,163.6v0.6M307.52,238.7v-0.6M307.52,163.6v0.6M310.16,238.7v-0.6M310.16,163.6v0.6M312.8,238.7v-0.6M312.8,163.6v0.6M315.44,238.7v-0.6M315.44,163.6v0.6M318.08,238.7v-0.6M318.08,163.6v0.6M320.72,238.7v-0.6M320.72,163.6v0.6M323.36,238.7v-0.6M323.36,163.6v0.6M326,238.7v-0.6M326,163.6v0.6" stroke="#555" stroke-width="0.3" fill="none"/>
<g font-size="2.8" fill="#333"><text x="232.8" y="239.5" text-anchor="end">100</text><text x="232.8" y="228.77" text-anchor="end">120</text><text x="232.8" y="218.04" text-anchor="end">140</text><text x="232.8" y="207.31" text-anchor="end">160</text><text x="232.8" y="196.59" text-anchor="end">180</text><text x="232.8" y="185.86" text-anchor="end">200</text><text x="232.8" y="175.13" text-anchor="end">220</text><text x="232.8" y="164.4" text-anchor="end">240</text><text x="233.6" y="241.7" text-anchor="middle">-10</text><text x="246.8" y="241.7" text-anchor="middle">0</text><text x="260" y="241.7" text-anchor="middle">10</text><text x="273.2" y="241.7" text-anchor="middle">20</text><text x="286.4" y="241.7" text-anchor="middle">30</text><text x="299.6" y="241.7" text-anchor="middle">40</text><text x="312.8" y="241.7" text-anchor="middle">50</text><text x="326" y="241.7" text-anchor="middle">60</text></g>
<text x="279.8" y="244.9" font-size="2.9" fill="#222" text-anchor="middle">Time</text>
<text transform="translate(226.3,201.15) rotate(-90)" font-size="2.9" fill="#222" text-anchor="middle">Acoustic Power Level (dB)</text>
<polyline points="240.3,215.6 242.5,206 245,193 245.8,189 246.4,185.8 247,190 248,199 248.8,206.4 251,206 253,207 257.7,210 265,212.5 275.6,215.4 293.4,217.1 311.3,220 318,220.8 325.8,221.4" fill="none" stroke="#000" stroke-width="0.8" stroke-dasharray="0.7 0.55" stroke-linejoin="round"/>
<polyline points="240,226 240.67,223.07 241.61,218.93 242.5,215 243.21,211.7 243.87,208.63 244.5,206 245.1,203.72 245.67,201.88 246.3,201 247.04,201.74 247.84,203.43 248.6,204.6 249.26,204.56 249.88,204 250.5,203.5 251.11,203.17 251.71,202.9 252.4,202.9 253.21,203.36 254.1,204.1 255,204.8 255.72,205.34 256.46,205.84 257.7,206.4 259.67,207.02 262.15,207.69 265,208.5 268.02,209.46 271.41,210.56 275.6,211.8 281,213.31 287.19,214.97 293.4,216.4 299.77,217.42 306.16,218.21 311.3,218.9 314.32,219.49 316.1,219.97 318,220.5 320.81,221.21 323.74,221.97 325.8,222.5" fill="none" stroke="#3a3ad8" stroke-width="1.1" stroke-linejoin="round"/>
<polyline points="240,231.4 241.8,225 243.5,214 245.2,205 246,200 246.3,186 246.6,172 247,169.1 247.3,178 247.6,171 248,184 248.4,200 248.8,213.6 252.4,210 257.7,208.2 265,210.5 275.6,213.6 293.4,217.1 311.3,220.7 318,222.5 325.8,224.3" fill="none" stroke="#e02828" stroke-width="0.85" stroke-dasharray="1.6 0.6 0.5 0.6" stroke-linejoin="round"/>
<rect x="275.3" y="177.5" width="42" height="14.5" fill="#fff" stroke="#555" stroke-width="0.35"/>
<line x1="276.5" y1="179.92" x2="282.8" y2="179.92" stroke="#000" stroke-width="0.8" stroke-dasharray="0.7 0.55"/>
<text x="283.8" y="180.72" font-size="2.5" fill="#222">θ:20, Re: 5000, α:15</text>
<line x1="276.5" y1="184.75" x2="282.8" y2="184.75" stroke="#3a3ad8" stroke-width="1.1"/>
<text x="283.8" y="185.55" font-size="2.5" fill="#222">θ:20, Re: 10000, α:15</text>
<line x1="276.5" y1="189.58" x2="282.8" y2="189.58" stroke="#e02828" stroke-width="0.85" stroke-dasharray="1.6 0.6 0.5 0.6"/>
<text x="283.8" y="190.38" font-size="2.5" fill="#222">θ:20, Re: 20000, α:15</text>
<defs>
<clipPath id="cF"><path d="M337.5,123.8 H436 V144 L396,155.2 L376,159.1 Q370.5,159.6 367,155 L353.5,138.5 L337.5,125.8 Z"/></clipPath>
</defs>
<rect x="337" y="114.5" width="100" height="47.1" fill="#fff" stroke="#d8d8d8" stroke-width="0.4"/>
<g clip-path="url(#cF)">
<rect x="336" y="122" width="101" height="40" fill="#460200"/>
<ellipse cx="430" cy="131" rx="16" ry="7" fill="#b00e00" filter="url(#bl3)"/>
<path d="M337.37,122.88 L338.12,123.48 L338.87,124.08 L339.52,124.57 L340.18,125.06 L340.83,125.55 L341.48,126.04 L342.14,126.53 L342.79,127.02 L343.44,127.51 L344.1,128 L344.75,128.49 L345.41,128.98 L346.06,129.47 L346.71,129.96 L347.37,130.45 L348.02,130.94 L348.68,131.44 L349.33,131.93 L349.98,132.42 L350.65,132.9 L351.56,133.05 L352.48,133.21 L353.4,133.37 L354.32,133.52 L355.24,133.68 L356.37,134.02 L357.54,134.4 L358.54,135.02 L359.55,135.67 L360.32,136.1 L360.85,136.72 L361.39,137.34 L361.92,137.97 L362.45,138.59 L362.99,139.21 L363.52,139.84 L364.05,140.46 L364.58,141.09 L365.12,141.71 L365.65,142.33 L366.18,142.96 L366.71,143.58 L367.25,144.2 L367.78,144.83 L368.31,145.45 L368.84,146.08 L369.38,146.7 L369.91,147.32 L370.44,147.95 L370.97,148.57 L371.51,149.19 L372.04,149.82 L372.49,150.34 L372.9,150.88 L373.24,151.26 L373.45,151.48 L373.64,151.64 L373.8,151.76 L373.95,151.85 L374.1,151.93 L374.26,152 L374.46,152.06 L374.7,152.1 L374.92,152.13 L375.31,152.13 L375.72,152.04 L376.26,151.93 L377.06,151.78 L377.87,151.64 L378.67,151.49 L379.47,151.34 L380.27,151.19 L381.07,151.04 L381.87,150.9 L382.68,150.75 L383.48,150.6 L384.28,150.45 L385.08,150.3 L385.88,150.16 L386.68,150.01 L387.48,149.86 L388.29,149.71 L389.09,149.56 L389.89,149.41 L390.69,149.27 L391.49,149.12 L392.29,148.97 L393.1,148.82 L393.76,148.7 L394.43,148.58 L395.05,148.32 L395.67,148.06 L396.42,147.77 L397.17,147.47 L397.92,147.18 L398.67,146.88 L399.43,146.59 L400.18,146.29 L400.93,146 L401.68,145.7 L402.43,145.41 L403.18,145.11 L403.93,144.82 L404.69,144.52 L405.44,144.22 L406.19,143.93 L406.94,143.63 L407.69,143.34 L408.44,143.04 L409.2,142.75 L409.95,142.45 L410.7,142.16 L411.45,141.86 L412.2,141.57 L412.95,141.27 L413.71,140.98 L414.46,140.68 L415.21,140.39 L415.96,140.09 L416.71,139.8 L417.46,139.5 L418.22,139.21 L418.97,138.91 L419.72,138.62 L420.47,138.32 L421.22,138.03 L421.97,137.73 L422.73,137.44 L423.48,137.14 L424.23,136.85 L424.98,136.55 L425.73,136.25 L426.48,135.96 L427.24,135.66 L427.99,135.37 L428.74,135.07 L429.49,134.78 L430.24,134.48 L430.99,134.19 L431.75,133.89 L432.5,133.6 L433.26,133.33 L434.03,133.11 L437,165 L336,165 Z" fill="#d81800" filter="url(#bl05)"/>
<path d="M336.94,123.43 L337.69,124.03 L338.43,124.63 L339.08,125.12 L339.73,125.61 L340.38,126.11 L341.03,126.6 L341.68,127.1 L342.33,127.59 L342.99,128.09 L343.64,128.58 L344.29,129.08 L344.94,129.57 L345.59,130.07 L346.24,130.56 L346.89,131.06 L347.54,131.55 L348.19,132.05 L348.84,132.54 L349.49,133.04 L350.15,133.52 L351.07,133.68 L351.98,133.84 L352.9,133.99 L353.82,134.15 L354.74,134.31 L355.84,134.62 L356.97,134.97 L357.95,135.56 L358.93,136.17 L359.7,136.6 L360.23,137.23 L360.75,137.86 L361.28,138.49 L361.81,139.12 L362.33,139.75 L362.86,140.38 L363.38,141.01 L363.91,141.64 L364.44,142.27 L364.96,142.9 L365.49,143.52 L366.01,144.15 L366.54,144.78 L367.07,145.41 L367.59,146.04 L368.12,146.67 L368.64,147.3 L369.17,147.93 L369.69,148.56 L370.22,149.19 L370.75,149.82 L371.27,150.45 L371.72,150.99 L372.14,151.57 L372.5,152.02 L372.76,152.31 L373,152.55 L373.23,152.75 L373.46,152.93 L373.7,153.08 L373.96,153.21 L374.26,153.32 L374.61,153.42 L374.95,153.49 L375.44,153.53 L375.94,153.43 L376.54,153.34 L377.34,153.21 L378.15,153.07 L378.95,152.94 L379.76,152.81 L380.56,152.68 L381.36,152.54 L382.17,152.41 L382.97,152.28 L383.78,152.15 L384.58,152.01 L385.39,151.88 L386.19,151.75 L387,151.62 L387.8,151.48 L388.61,151.35 L389.41,151.22 L390.22,151.09 L391.02,150.95 L391.82,150.82 L392.63,150.69 L393.43,150.56 L394.14,150.45 L394.85,150.33 L395.51,150.11 L396.18,149.89 L396.95,149.65 L397.71,149.4 L398.48,149.15 L399.24,148.91 L400.01,148.66 L400.77,148.41 L401.54,148.16 L402.3,147.92 L403.07,147.67 L403.83,147.42 L404.6,147.18 L405.36,146.93 L406.13,146.68 L406.89,146.44 L407.66,146.19 L408.42,145.94 L409.19,145.7 L409.95,145.45 L410.72,145.2 L411.48,144.96 L412.25,144.71 L413.02,144.46 L413.78,144.22 L414.55,143.97 L415.31,143.72 L416.08,143.48 L416.84,143.23 L417.61,142.98 L418.37,142.74 L419.14,142.49 L419.9,142.24 L420.67,142 L421.43,141.75 L422.2,141.5 L422.96,141.26 L423.73,141.01 L424.49,140.76 L425.26,140.51 L426.02,140.27 L426.79,140.02 L427.55,139.77 L428.32,139.53 L429.08,139.28 L429.85,139.03 L430.62,138.79 L431.38,138.54 L432.15,138.29 L432.91,138.05 L433.68,137.8 L434.44,137.56 L435.22,137.35 L437,165 L336,165 Z" fill="#ff7000" filter="url(#bl05)"/>
<path d="M336.56,123.9 L337.31,124.5 L338.06,125.1 L338.71,125.59 L339.36,126.08 L340.01,126.58 L340.66,127.07 L341.31,127.57 L341.96,128.06 L342.61,128.56 L343.26,129.05 L343.91,129.55 L344.56,130.04 L345.21,130.54 L345.86,131.03 L346.51,131.53 L347.16,132.02 L347.82,132.52 L348.47,133.01 L349.12,133.51 L349.77,133.99 L350.68,134.17 L351.58,134.34 L352.49,134.52 L353.4,134.69 L354.3,134.86 L355.36,135.17 L356.45,135.51 L357.38,136.07 L358.32,136.67 L359.08,137.11 L359.6,137.75 L360.12,138.38 L360.64,139.01 L361.16,139.65 L361.68,140.28 L362.2,140.92 L362.72,141.55 L363.24,142.19 L363.76,142.82 L364.27,143.46 L364.79,144.09 L365.31,144.73 L365.83,145.36 L366.35,146 L366.87,146.63 L367.39,147.26 L367.91,147.9 L368.43,148.53 L368.95,149.17 L369.47,149.8 L369.99,150.44 L370.51,151.07 L370.96,151.63 L371.39,152.26 L371.78,152.75 L372.09,153.11 L372.4,153.42 L372.7,153.68 L373.01,153.92 L373.33,154.12 L373.69,154.3 L374.08,154.45 L374.53,154.58 L374.98,154.67 L375.56,154.72 L376.13,154.63 L376.77,154.53 L377.58,154.41 L378.38,154.28 L379.19,154.16 L379.99,154.03 L380.8,153.91 L381.61,153.78 L382.41,153.66 L383.22,153.54 L384.03,153.41 L384.83,153.29 L385.64,153.16 L386.44,153.04 L387.25,152.91 L388.06,152.79 L388.86,152.66 L389.67,152.54 L390.47,152.41 L391.28,152.29 L392.09,152.16 L392.89,152.04 L393.7,151.92 L394.43,151.81 L395.17,151.7 L395.87,151.5 L396.58,151.31 L397.35,151.09 L398.13,150.88 L398.9,150.67 L399.68,150.45 L400.45,150.24 L401.22,150.03 L402,149.81 L402.77,149.6 L403.55,149.39 L404.32,149.17 L405.1,148.96 L405.87,148.75 L406.65,148.53 L407.42,148.32 L408.2,148.11 L408.97,147.9 L409.75,147.68 L410.52,147.47 L411.29,147.26 L412.07,147.04 L412.84,146.83 L413.62,146.62 L414.39,146.4 L415.17,146.19 L415.94,145.98 L416.72,145.76 L417.49,145.55 L418.27,145.34 L419.04,145.12 L419.82,144.91 L420.59,144.7 L421.37,144.48 L422.14,144.27 L422.91,144.06 L423.69,143.84 L424.46,143.63 L425.24,143.42 L426.01,143.2 L426.79,142.99 L427.56,142.78 L428.34,142.56 L429.11,142.35 L429.89,142.14 L430.66,141.92 L431.44,141.71 L432.21,141.5 L432.98,141.28 L433.76,141.07 L434.53,140.86 L435.31,140.64 L436.08,140.43 L437,165 L336,165 Z" fill="#ffe000" filter="url(#bl05)"/>
<path d="M336,124.6 L336.75,125.2 L337.5,125.8 L338.14,126.31 L338.78,126.82 L339.42,127.32 L340.06,127.83 L340.7,128.34 L341.34,128.85 L341.98,129.36 L342.62,129.86 L343.26,130.37 L343.9,130.88 L344.54,131.39 L345.18,131.9 L345.82,132.4 L346.46,132.91 L347.1,133.42 L347.74,133.93 L348.38,134.44 L349.03,134.94 L349.87,135.19 L350.7,135.45 L351.54,135.71 L352.38,135.97 L353.22,136.22 L354.14,136.55 L355.08,136.9 L355.87,137.44 L356.68,138.02 L357.38,138.5 L357.91,139.13 L358.43,139.76 L358.96,140.39 L359.48,141.02 L360.01,141.65 L360.54,142.28 L361.06,142.91 L361.59,143.54 L362.11,144.17 L362.64,144.79 L363.17,145.42 L363.69,146.05 L364.22,146.68 L364.74,147.31 L365.27,147.94 L365.8,148.57 L366.32,149.2 L366.85,149.83 L367.37,150.46 L367.9,151.09 L368.42,151.72 L368.95,152.35 L369.44,152.93 L369.94,153.59 L370.42,154.14 L370.87,154.58 L371.32,154.97 L371.78,155.3 L372.25,155.57 L372.75,155.81 L373.27,156 L373.82,156.15 L374.42,156.25 L375.02,156.31 L375.72,156.31 L376.37,156.22 L377.08,156.12 L377.89,156 L378.69,155.88 L379.5,155.77 L380.31,155.65 L381.12,155.53 L381.93,155.42 L382.73,155.3 L383.54,155.18 L384.35,155.07 L385.16,154.95 L385.96,154.83 L386.77,154.72 L387.58,154.6 L388.39,154.48 L389.19,154.37 L390,154.25 L390.81,154.13 L391.62,154.02 L392.42,153.9 L393.23,153.78 L394.04,153.67 L394.81,153.56 L395.58,153.45 L396.32,153.25 L397.06,153.04 L397.84,152.83 L398.61,152.62 L399.39,152.41 L400.16,152.2 L400.94,151.99 L401.72,151.78 L402.49,151.56 L403.27,151.35 L404.04,151.14 L404.82,150.93 L405.59,150.72 L406.37,150.51 L407.14,150.3 L407.92,150.08 L408.69,149.87 L409.47,149.66 L410.24,149.45 L411.02,149.24 L411.79,149.03 L412.57,148.82 L413.34,148.6 L414.12,148.39 L414.89,148.18 L415.67,147.97 L416.44,147.76 L417.22,147.55 L417.99,147.34 L418.77,147.13 L419.54,146.91 L420.32,146.7 L421.09,146.49 L421.87,146.28 L422.64,146.07 L423.42,145.86 L424.19,145.65 L424.97,145.43 L425.74,145.22 L426.52,145.01 L427.3,144.8 L428.07,144.59 L428.85,144.38 L429.62,144.17 L430.4,143.95 L431.17,143.74 L431.95,143.53 L432.72,143.32 L433.5,143.11 L434.27,142.9 L435.05,142.69 L435.82,142.47 L436.59,142.26 L437,165 L336,165 Z" fill="#fffbe6" filter="url(#bl05)"/>
<path d="M336,124.6 L336.75,125.2 L337.5,125.8 L338.14,126.31 L338.78,126.82 L339.42,127.32 L340.06,127.83 L340.7,128.34 L341.34,128.85 L341.98,129.36 L342.62,129.86 L343.26,130.37 L343.9,130.88 L344.54,131.39 L345.18,131.9 L345.82,132.4 L346.46,132.91 L347.1,133.42 L347.74,133.93 L348.38,134.44 L349.02,134.94 L349.71,135.38 L350.41,135.82 L351.1,136.27 L351.79,136.71 L352.49,137.15 L353.2,137.61 L353.92,138.07 L354.51,138.68 L355.11,139.3 L355.68,139.9 L356.2,140.53 L356.72,141.17 L357.23,141.8 L357.75,142.44 L358.27,143.07 L358.79,143.7 L359.31,144.34 L359.83,144.97 L360.35,145.61 L360.87,146.24 L361.39,146.88 L361.91,147.51 L362.43,148.15 L362.95,148.78 L363.47,149.42 L363.98,150.05 L364.5,150.69 L365.02,151.32 L365.54,151.95 L366.06,152.59 L366.58,153.22 L367.1,153.86 L367.61,154.48 L368.18,155.2 L368.76,155.84 L369.36,156.4 L369.98,156.89 L370.62,157.32 L371.29,157.68 L371.99,157.98 L372.72,158.21 L373.48,158.38 L374.27,158.49 L375.08,158.53 L375.94,158.5 L376.71,158.36 L377.49,158.22 L378.29,158.08 L379.09,157.93 L379.9,157.79 L380.7,157.65 L381.5,157.5 L382.3,157.36 L383.11,157.21 L383.91,157.07 L384.71,156.92 L385.51,156.78 L386.32,156.64 L387.12,156.49 L387.92,156.35 L388.72,156.2 L389.52,156.06 L390.33,155.92 L391.13,155.77 L391.93,155.63 L392.73,155.48 L393.54,155.34 L394.34,155.19 L395.13,155.05 L395.93,154.91 L396.7,154.7 L397.47,154.49 L398.24,154.28 L399.02,154.07 L399.79,153.85 L400.57,153.64 L401.35,153.43 L402.12,153.22 L402.9,153.01 L403.67,152.8 L404.45,152.59 L405.22,152.37 L406,152.16 L406.77,151.95 L407.55,151.74 L408.32,151.53 L409.1,151.32 L409.87,151.11 L410.65,150.89 L411.42,150.68 L412.2,150.47 L412.97,150.26 L413.75,150.05 L414.52,149.84 L415.3,149.63 L416.07,149.41 L416.85,149.2 L417.62,148.99 L418.4,148.78 L419.17,148.57 L419.95,148.36 L420.72,148.15 L421.5,147.94 L422.27,147.72 L423.05,147.51 L423.82,147.3 L424.6,147.09 L425.37,146.88 L426.15,146.67 L426.93,146.46 L427.7,146.24 L428.48,146.03 L429.25,145.82 L430.03,145.61 L430.8,145.4 L431.58,145.19 L432.35,144.98 L433.13,144.76 L433.9,144.55 L434.68,144.34 L435.45,144.13 L436.23,143.92 L437,143.7 L437,165 L336,165 Z" fill="#ffe850" filter="url(#bl05)"/>
<path d="M351.6,122 L353.9,122 Q354.3,130 355,135 Q356,139 359,142 L350,140 Q351.1,130 351.6,122 Z" fill="#ffd800" filter="url(#bl05)"/>
<path d="M352.3,122 L353.2,122 Q353.5,130 353.9,137 L352,137 Q352.1,130 352.3,122 Z" fill="#fffbe0" filter="url(#bl05)"/>
</g>
<path d="M351.4,119.3 h2.8 v5 h-2.8 z" fill="#ffe850"/>
<path d="M337.5,125.8 L353.5,138.5 L367,155 Q370.5,159.6 376,159.1 L396,155.2 L436,144" fill="none" stroke="#c8c8c8" stroke-width="0.5"/>
<text x="384.9" y="133.6" font-size="7" font-weight="bold" fill="#fff" textLength="24.1" lengthAdjust="spacingAndGlyphs">Force on</text>
<text x="373.4" y="141.3" font-size="7" font-weight="bold" fill="#fff" textLength="47.1" lengthAdjust="spacingAndGlyphs">deflector surface</text>
<rect x="337.8" y="162.9" width="105.2" height="83.6" fill="#fff" stroke="#d8d8d8" stroke-width="0.4"/>
<rect x="351.3" y="165.3" width="88.7" height="71.2" fill="#fff" stroke="#444" stroke-width="0.45"/>
<path d="M351.3,232.1h1.2M440,232.1h-1.2M351.3,221.8h1.2M440,221.8h-1.2M351.3,211.5h1.2M440,211.5h-1.2M351.3,201.2h1.2M440,201.2h-1.2M351.3,190.9h1.2M440,190.9h-1.2M351.3,180.6h1.2M440,180.6h-1.2M351.3,170.3h1.2M440,170.3h-1.2M351.3,236.5v-1.2M351.3,165.3v1.2M363.97,236.5v-1.2M363.97,165.3v1.2M376.64,236.5v-1.2M376.64,165.3v1.2M389.31,236.5v-1.2M389.31,165.3v1.2M401.99,236.5v-1.2M401.99,165.3v1.2M414.66,236.5v-1.2M414.66,165.3v1.2M427.33,236.5v-1.2M427.33,165.3v1.2M440,236.5v-1.2M440,165.3v1.2M351.3,236.5h0.6M440,236.5h-0.6M351.3,234.13h0.6M440,234.13h-0.6M351.3,231.75h0.6M440,231.75h-0.6M351.3,229.38h0.6M440,229.38h-0.6M351.3,227.01h0.6M440,227.01h-0.6M351.3,224.63h0.6M440,224.63h-0.6M351.3,222.26h0.6M440,222.26h-0.6M351.3,219.89h0.6M440,219.89h-0.6M351.3,217.51h0.6M440,217.51h-0.6M351.3,215.14h0.6M440,215.14h-0.6M351.3,212.77h0.6M440,212.77h-0.6M351.3,210.39h0.6M440,210.39h-0.6M351.3,208.02h0.6M440,208.02h-0.6M351.3,205.65h0.6M440,205.65h-0.6M351.3,203.27h0.6M440,203.27h-0.6M351.3,200.9h0.6M440,200.9h-0.6M351.3,198.53h0.6M440,198.53h-0.6M351.3,196.15h0.6M440,196.15h-0.6M351.3,193.78h0.6M440,193.78h-0.6M351.3,191.41h0.6M440,191.41h-0.6M351.3,189.03h0.6M440,189.03h-0.6M351.3,186.66h0.6M440,186.66h-0.6M351.3,184.29h0.6M440,184.29h-0.6M351.3,181.91h0.6M440,181.91h-0.6M351.3,179.54h0.6M440,179.54h-0.6M351.3,177.17h0.6M440,177.17h-0.6M351.3,174.79h0.6M440,174.79h-0.6M351.3,172.42h0.6M440,172.42h-0.6M351.3,170.05h0.6M440,170.05h-0.6M351.3,167.67h0.6M440,167.67h-0.6M351.3,165.3h0.6M440,165.3h-0.6M351.3,236.5v-0.6M351.3,165.3v0.6M353.83,236.5v-0.6M353.83,165.3v0.6M356.37,236.5v-0.6M356.37,165.3v0.6M358.9,236.5v-0.6M358.9,165.3v0.6M361.44,236.5v-0.6M361.44,165.3v0.6M363.97,236.5v-0.6M363.97,165.3v0.6M366.51,236.5v-0.6M366.51,165.3v0.6M369.04,236.5v-0.6M369.04,165.3v0.6M371.57,236.5v-0.6M371.57,165.3v0.6M374.11,236.5v-0.6M374.11,165.3v0.6M376.64,236.5v-0.6M376.64,165.3v0.6M379.18,236.5v-0.6M379.18,165.3v0.6M381.71,236.5v-0.6M381.71,165.3v0.6M384.25,236.5v-0.6M384.25,165.3v0.6M386.78,236.5v-0.6M386.78,165.3v0.6M389.31,236.5v-0.6M389.31,165.3v0.6M391.85,236.5v-0.6M391.85,165.3v0.6M394.38,236.5v-0.6M394.38,165.3v0.6M396.92,236.5v-0.6M396.92,165.3v0.6M399.45,236.5v-0.6M399.45,165.3v0.6M401.99,236.5v-0.6M401.99,165.3v0.6M404.52,236.5v-0.6M404.52,165.3v0.6M407.05,236.5v-0.6M407.05,165.3v0.6M409.59,236.5v-0.6M409.59,165.3v0.6M412.12,236.5v-0.6M412.12,165.3v0.6M414.66,236.5v-0.6M414.66,165.3v0.6M417.19,236.5v-0.6M417.19,165.3v0.6M419.73,236.5v-0.6M419.73,165.3v0.6M422.26,236.5v-0.6M422.26,165.3v0.6M424.79,236.5v-0.6M424.79,165.3v0.6M427.33,236.5v-0.6M427.33,165.3v0.6M429.86,236.5v-0.6M429.86,165.3v0.6M432.4,236.5v-0.6M432.4,165.3v0.6M434.93,236.5v-0.6M434.93,165.3v0.6M437.47,236.5v-0.6M437.47,165.3v0.6M440,236.5v-0.6M440,165.3v0.6" stroke="#555" stroke-width="0.3" fill="none"/>
<g font-size="2.8" fill="#333"><text x="350.5" y="232.9" text-anchor="end">0</text><text x="350.5" y="222.6" text-anchor="end">20000</text><text x="350.5" y="212.3" text-anchor="end">40000</text><text x="350.5" y="202" text-anchor="end">60000</text><text x="350.5" y="191.7" text-anchor="end">80000</text><text x="350.5" y="181.4" text-anchor="end">100000</text><text x="350.5" y="171.1" text-anchor="end">120000</text><text x="351.3" y="239.5" text-anchor="middle">-10</text><text x="363.97" y="239.5" text-anchor="middle">0</text><text x="376.64" y="239.5" text-anchor="middle">10</text><text x="389.31" y="239.5" text-anchor="middle">20</text><text x="401.99" y="239.5" text-anchor="middle">30</text><text x="414.66" y="239.5" text-anchor="middle">40</text><text x="427.33" y="239.5" text-anchor="middle">50</text><text x="440" y="239.5" text-anchor="middle">60</text></g>
<text x="395.65" y="242.7" font-size="2.9" fill="#222" text-anchor="middle">Time</text>
<text transform="translate(339.8,200.9) rotate(-90)" font-size="2.9" fill="#222" text-anchor="middle">Force (N)</text>
<polyline points="357.1,232.1 357.98,230.94 359.24,229.3 360.65,227.29 362,225 363.27,222.39 364.56,219.43 365.82,216.26 367,213 368.09,209.55 369.12,205.88 370.09,202.27 371,199 371.84,196.08 372.62,193.38 373.34,190.98 374,189 374.57,187.44 375.06,186.25 375.52,185.44 376,185 376.48,184.94 376.94,185.25 377.43,185.94 378,187 378.63,188.55 379.31,190.56 380.09,192.79 381,195 382.02,197.19 383.12,199.47 384.42,201.76 386,204 387.95,206.2 390.19,208.38 392.59,210.49 395,212.5 397.43,214.41 399.94,216.25 402.48,217.96 405,219.5 407.5,220.82 410,221.97 412.5,223 415,224 417.39,224.97 419.7,225.89 422.16,226.73 425,227.5 428.71,228.21 433.02,228.87 437.03,229.41 439.8,229.8" fill="none" stroke="#3a3ad8" stroke-width="1.1" stroke-linejoin="round"/>
<polyline points="357.1,232.1 358.37,230.57 360.18,228.31 362,225.5 363.7,222.09 365.4,218.13 367,214 368.44,209.61 369.78,205.06 371,201 372.09,197.69 373.07,194.87 374,192.5 374.89,190.6 375.72,189.15 376.5,188 377.2,187.07 377.84,186.45 378.5,186.2 379.2,186.61 379.91,187.39 380.6,187.8 381.24,187.28 381.87,186.39 382.5,186 383.16,186.76 383.83,188.04 384.5,188.8 385.17,188.34 385.83,187.38 386.5,187 387.17,187.94 387.83,189.47 388.5,190.5 389.17,190.28 389.83,189.56 390.5,189.5 391.11,190.61 391.72,192.39 392.5,194.5 393.43,196.91 394.52,199.65 396,202.5 398.07,205.56 400.54,208.72 403,211.5 405.22,213.6 407.44,215.31 410,217 413.11,218.86 416.56,220.69 420,222.3 423.34,223.58 426.68,224.64 430,225.6 433.64,226.56 437.27,227.41 439.8,228" fill="none" stroke="#e02828" stroke-width="0.9" stroke-linejoin="round"/>
<polyline points="357.1,232.1 357.8,230.96 358.8,229.36 359.93,227.36 361,225 362,222.33 363.02,219.31 364.03,215.88 365,212 365.95,207.33 366.88,202 367.74,196.67 368.5,192 369.12,188.06 369.64,184.54 370.09,181.5 370.5,179 370.85,177.1 371.14,175.76 371.41,174.87 371.7,174.3 371.98,174.01 372.24,174.08 372.55,174.55 373,175.5 373.61,177.05 374.33,179.14 375.14,181.53 376,184 376.88,186.6 377.81,189.41 378.84,192.26 380,195 381.29,197.62 382.69,200.19 384.24,202.66 386,205 388.02,207.16 390.25,209.19 392.61,211.12 395,213 397.43,214.88 399.94,216.72 402.48,218.45 405,220 407.5,221.34 410,222.5 412.5,223.54 415,224.5 417.39,225.38 419.7,226.15 422.16,226.85 425,227.5 428.71,228.14 433.02,228.74 437.03,229.24 439.8,229.6" fill="none" stroke="#000" stroke-width="1.1" stroke-linejoin="round"/>
<rect x="395" y="167" width="42.5" height="13.7" fill="#fff" stroke="#555" stroke-width="0.35"/>
<line x1="396.2" y1="169.28" x2="402.5" y2="169.28" stroke="#000" stroke-width="0.9"/>
<text x="403.5" y="170.08" font-size="2.5" fill="#222">θ:20, Re: 5000, α:15</text>
<line x1="396.2" y1="173.85" x2="402.5" y2="173.85" stroke="#3a3ad8" stroke-width="0.9"/>
<text x="403.5" y="174.65" font-size="2.5" fill="#222">θ:20, Re: 10000, α:15</text>
<line x1="396.2" y1="178.42" x2="402.5" y2="178.42" stroke="#e02828" stroke-width="0.9"/>
<text x="403.5" y="179.22" font-size="2.5" fill="#222">θ:20, Re: 20000, α:15</text>
</svg>
</body></html>
